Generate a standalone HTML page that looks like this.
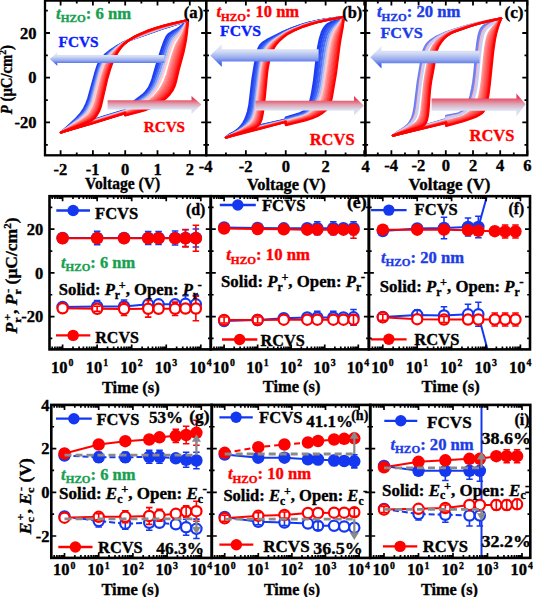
<!DOCTYPE html>
<html><head><meta charset="utf-8"><style>
html,body{margin:0;padding:0;background:#fff;overflow:hidden;}
svg{display:block;}
</style></head><body>
<svg width="533" height="597" viewBox="0 0 533 597">
<defs><linearGradient id="gB" x1="0" y1="0" x2="0" y2="1"><stop offset="0" stop-color="#e6ebf7"/><stop offset="0.3" stop-color="#d6def4"/><stop offset="0.6" stop-color="#98acee"/><stop offset="0.85" stop-color="#4a68ea"/><stop offset="1" stop-color="#2244e8"/></linearGradient><linearGradient id="gR" x1="0" y1="0" x2="0" y2="1"><stop offset="0" stop-color="#ec2d48"/><stop offset="0.2" stop-color="#e64a62"/><stop offset="0.45" stop-color="#e0a2b2"/><stop offset="0.7" stop-color="#dadcee"/><stop offset="1" stop-color="#dde3f4"/></linearGradient></defs>
<rect width="533" height="597" fill="#fff"/>
<g fill="none" stroke-linejoin="round" stroke-linecap="round">
<path d="M60.9,132.5 80.4,124.7 92.8,120.2 104.6,116.3 125.2,110.1 125.2,109.2 135.1,100.7 143.6,94.0 145.8,91.8 147.8,89.3 149.4,86.5 151.0,83.0 152.5,78.8 157.0,63.3 162.1,47.5 164.4,41.1 166.5,36.7 167.7,35.1 168.9,33.9 172.0,31.8 177.0,29.2 179.6,27.4 182.7,24.9 187.9,20.0" stroke="#1a3cf5" stroke-width="2.2"/>
<path d="M60.9,132.5 81.3,124.6 93.3,120.2 105.5,116.2 125.2,110.3 125.2,109.7 134.6,102.2 144.6,94.6 147.0,92.1 149.0,89.6 150.9,86.3 152.5,82.7 154.0,78.6 164.2,46.2 166.0,41.5 167.8,37.7 169.1,35.9 171.0,34.1 173.6,32.3 178.1,29.5 180.8,27.4 183.2,25.0 187.9,20.0" stroke="#2447f3" stroke-width="2.2"/>
<path d="M60.9,132.5 81.3,124.7 93.3,120.4 105.6,116.5 125.2,110.6 125.2,110.1 143.4,96.9 145.7,95.1 148.1,92.7 150.2,89.9 152.3,86.4 154.1,82.5 158.1,70.9 165.6,47.0 167.3,42.6 169.0,39.0 170.2,37.0 171.8,35.4 174.3,33.4 178.7,30.2 181.2,27.9 183.6,25.4 187.9,20.0" stroke="#4a6af2" stroke-width="2.2"/>
<path d="M60.9,132.5 81.4,124.9 93.4,120.7 105.7,116.7 125.2,110.8 125.2,110.6 144.1,97.9 146.8,95.8 149.4,93.2 151.5,90.4 153.8,86.7 155.8,82.6 160.1,70.7 167.3,47.6 168.9,43.5 170.4,40.2 171.7,38.2 173.2,36.5 179.2,31.2 181.6,28.7 183.9,25.8 187.9,20.0" stroke="#7c96f5" stroke-width="2.2"/>
<path d="M60.9,132.5 81.5,125.0 93.9,120.8 106.6,116.7 125.2,111.1 144.5,99.1 148.2,96.3 150.8,93.7 153.3,90.5 155.6,86.7 157.6,82.7 160.1,76.6 161.9,71.5 168.9,48.5 170.4,44.4 171.8,41.3 172.9,39.5 174.1,37.9 179.9,31.9 182.1,29.3 184.4,25.9 187.9,20.0" stroke="#b0c4fa" stroke-width="2.2"/>
<path d="M60.9,132.5 82.8,124.8 96.9,120.1 125.2,111.3 125.2,111.6 144.6,100.5 147.1,98.9 149.3,97.1 152.4,94.0 155.4,90.1 157.9,86.1 160.2,81.1 162.1,76.5 163.8,71.7 170.3,50.0 171.9,45.6 173.4,42.2 175.5,39.0 180.4,32.9 182.5,30.1 184.7,26.2 187.9,20.0" stroke="#ffc8cc" stroke-width="2.2"/>
<path d="M60.9,132.5 89.0,123.2 108.9,116.9 125.2,111.8 125.2,112.7 138.1,106.7 144.9,103.2 149.0,100.8 152.7,97.9 156.3,94.2 159.6,90.1 162.0,86.4 164.6,81.2 167.2,74.3 172.1,56.7 175.3,47.2 176.9,43.5 181.9,34.9 183.6,31.4 185.4,27.0 187.9,20.0" stroke="#ff9c9c" stroke-width="2.2"/>
<path d="M60.9,132.5 95.1,121.4 125.2,112.1 125.2,113.1 138.4,107.4 145.7,104.0 150.1,101.4 154.2,98.2 158.2,94.3 161.3,90.4 164.0,86.2 166.5,81.2 168.7,74.9 172.8,60.0 176.0,49.7 177.8,44.9 182.2,36.2 184.0,32.2 185.7,27.3 187.9,20.0" stroke="#ff8282" stroke-width="2.2"/>
<path d="M60.9,132.5 125.2,112.3 125.2,113.5 139.1,108.1 146.5,104.7 151.4,101.9 156.1,98.2 160.0,94.4 163.0,90.8 165.9,86.2 168.3,81.2 170.3,75.4 173.3,63.9 176.0,54.7 178.7,46.7 182.8,37.2 184.4,33.0 186.0,27.7 187.9,20.0" stroke="#ff6a6a" stroke-width="2.2"/>
<path d="M60.9,132.5 125.2,112.5 125.2,114.0 139.5,108.8 147.6,105.3 152.8,102.3 158.6,97.8 162.5,93.9 165.3,90.4 168.1,85.8 170.1,81.2 171.7,76.5 174.4,65.7 177.1,56.3 179.7,48.2 183.4,38.3 184.9,33.6 186.4,27.6 187.9,20.0" stroke="#ff5454" stroke-width="2.2"/>
<path d="M60.9,132.5 90.1,123.6 125.2,112.7 125.2,114.4 139.2,109.8 146.1,107.1 151.4,104.6 156.1,101.4 161.0,97.5 164.5,94.1 167.4,90.3 170.0,85.9 171.8,81.5 173.1,77.4 175.3,68.4 177.4,60.5 184.8,36.4 186.5,29.0 187.9,20.0" stroke="#ff3c3c" stroke-width="2.2"/>
<path d="M60.9,132.5 91.8,123.3 125.2,112.9 125.2,114.9 141.8,109.8 148.1,107.4 153.1,104.9 158.5,101.2 163.6,97.2 166.9,93.8 169.7,90.0 171.8,86.2 173.6,81.4 177.6,65.5 183.1,46.4 184.8,39.8 186.7,30.1 187.9,20.0" stroke="#ff2424" stroke-width="2.2"/>
<path d="M60.9,132.5 92.3,123.3 125.2,113.1 125.2,115.2 143.0,110.1 149.0,107.8 153.8,105.4 160.1,101.3 165.2,97.3 168.5,93.9 171.2,90.0 173.2,86.1 174.8,81.5 178.0,68.4 182.8,51.2 185.0,42.1 186.8,31.1 187.9,20.0" stroke="#ff1010" stroke-width="2.2"/>
<path d="M60.9,132.5 93.2,123.2 125.2,113.3 125.2,115.5 138.8,112.0 144.3,110.4 150.0,108.2 154.7,105.8 161.6,101.4 166.6,97.6 169.8,94.2 172.6,90.3 174.4,86.6 175.9,81.9 178.9,69.1 183.4,52.7 185.1,44.8 186.1,39.1 187.0,32.1 187.9,20.0" stroke="#ff0000" stroke-width="2.2"/>
<path d="M60.9,132.5 70.3,124.1 76.4,118.3 80.9,113.1 84.0,108.5 86.2,104.0 88.3,98.4 95.2,73.2 97.6,65.6 99.2,61.9 100.8,59.1 102.5,57.0 105.0,54.7 109.5,51.0 115.8,46.8 121.3,43.6 126.5,41.1 130.0,39.8 142.3,35.8 162.1,28.8 183.3,22.1 186.1,21.1 187.9,20.0" stroke="#1a3cf5" stroke-width="2.2"/>
<path d="M60.9,132.5 70.8,124.2 77.1,118.4 81.7,113.5 84.9,108.9 87.1,104.5 89.2,98.8 96.0,73.5 98.8,65.3 100.3,62.0 101.9,59.2 103.8,56.9 106.7,54.0 111.5,50.2 117.2,46.2 122.0,43.4 127.2,40.9 160.9,29.0 183.9,21.8 186.0,21.0 187.9,20.0" stroke="#2447f3" stroke-width="2.2"/>
<path d="M60.9,132.5 71.4,124.2 77.6,118.9 82.3,114.1 84.0,111.9 85.6,109.6 88.0,104.9 90.1,99.3 97.0,73.6 98.5,68.8 99.9,65.0 101.4,61.7 103.1,59.0 105.6,56.2 109.0,52.9 114.0,48.8 118.8,45.5 123.3,42.8 128.2,40.5 158.2,29.7 167.3,26.8 183.5,21.9 186.0,21.0 187.9,20.0" stroke="#4a6af2" stroke-width="2.2"/>
<path d="M60.9,132.5 72.2,124.1 78.6,118.9 83.5,114.2 85.0,112.4 86.6,110.1 88.9,105.8 91.0,100.2 98.0,74.0 99.6,68.9 101.2,64.8 102.9,61.2 104.9,58.4 107.8,55.1 111.8,51.4 116.2,47.7 120.7,44.5 125.0,42.1 129.6,39.9 157.7,29.7 167.5,26.5 183.8,21.7 185.9,21.0 187.9,20.0" stroke="#7c96f5" stroke-width="2.2"/>
<path d="M60.9,132.5 73.1,124.0 79.4,119.3 84.4,114.7 86.0,112.9 87.6,110.7 89.9,106.3 92.1,100.8 98.9,74.5 100.6,69.1 102.4,64.6 104.2,61.1 106.6,57.7 110.0,53.9 114.4,49.7 118.4,46.5 122.0,43.9 126.3,41.5 130.6,39.5 157.1,29.6 167.3,26.3 183.7,21.6 185.9,20.9 187.9,20.0" stroke="#b0c4fa" stroke-width="2.2"/>
<path d="M60.9,132.5 73.7,124.2 80.2,119.6 85.4,115.2 86.7,113.7 88.4,111.5 90.9,106.9 93.1,101.3 99.9,75.0 101.6,69.5 103.5,64.7 105.5,60.9 108.3,57.0 112.1,52.7 116.8,48.2 121.0,44.8 125.4,42.0 129.9,39.8 137.0,36.8 150.6,31.7 158.8,28.8 168.3,25.9 184.0,21.5 187.9,20.0" stroke="#ffc8cc" stroke-width="2.2"/>
<path d="M60.9,132.5 76.0,124.0 82.8,119.8 87.7,116.0 89.3,114.3 90.7,112.4 93.1,108.1 95.3,102.5 101.9,76.1 103.9,69.9 105.7,65.0 108.1,60.6 111.6,55.5 115.7,50.5 119.8,46.5 123.8,43.3 128.9,40.2 135.8,37.0 143.9,33.6 153.0,30.3 161.7,27.4 169.8,25.0 184.3,21.2 187.9,20.0" stroke="#ff9c9c" stroke-width="2.2"/>
<path d="M60.9,132.5 76.6,124.2 83.9,119.9 88.6,116.5 90.2,114.7 91.6,112.8 94.2,108.2 96.2,103.0 102.7,76.8 104.6,70.6 106.5,65.3 109.2,60.3 112.8,54.8 116.9,49.8 121.0,45.7 125.3,42.4 130.2,39.5 137.0,36.3 145.5,32.8 153.9,29.7 162.3,27.0 170.1,24.8 184.2,21.2 187.9,20.0" stroke="#ff8282" stroke-width="2.2"/>
<path d="M60.9,132.5 77.0,124.5 84.7,120.3 89.2,117.1 90.9,115.4 92.6,113.3 95.1,108.7 97.1,103.4 103.5,77.2 105.4,70.9 107.3,65.7 110.1,60.3 113.8,54.4 117.8,49.3 121.6,45.4 125.7,42.3 130.8,39.2 137.5,35.9 146.0,32.4 154.5,29.3 162.9,26.7 187.9,20.0" stroke="#ff6a6a" stroke-width="2.2"/>
<path d="M60.9,132.5 77.6,124.7 85.5,120.6 88.2,119.0 90.1,117.6 91.8,115.9 93.3,114.0 95.9,109.4 97.9,104.2 104.3,78.0 106.4,70.9 108.3,65.7 111.1,59.9 114.8,53.9 118.7,48.7 122.5,44.8 127.1,41.3 132.3,38.3 138.7,35.2 146.9,31.8 155.4,28.8 163.8,26.2 187.9,20.0" stroke="#ff5454" stroke-width="2.2"/>
<path d="M60.9,132.5 78.3,124.9 86.7,120.8 90.8,118.2 92.5,116.6 94.2,114.5 96.9,109.9 98.9,104.7 105.1,78.3 107.2,71.3 109.2,65.6 112.1,59.4 115.7,53.4 119.4,48.4 123.1,44.5 127.7,41.0 133.5,37.6 139.3,34.7 147.1,31.5 155.6,28.5 164.1,26.0 187.9,20.0" stroke="#ff3c3c" stroke-width="2.2"/>
<path d="M60.9,132.5 79.0,125.1 87.6,121.2 90.0,119.9 91.7,118.7 93.5,117.0 95.2,114.9 97.7,110.7 99.7,105.5 101.1,99.8 106.1,78.3 108.2,70.9 110.3,65.2 113.3,58.7 116.8,52.6 120.2,47.8 123.7,44.2 128.6,40.4 134.3,37.0 140.1,34.2 147.6,31.1 156.2,28.1 164.7,25.6 187.9,20.0" stroke="#ff2424" stroke-width="2.2"/>
<path d="M60.9,132.5 79.6,125.3 88.6,121.3 91.1,120.0 92.5,118.9 94.2,117.3 95.9,115.2 98.4,110.9 100.4,105.7 106.6,78.9 109.0,70.7 111.1,64.6 114.1,58.0 117.5,51.9 120.8,47.4 124.3,43.8 128.9,40.2 134.6,36.8 140.4,33.9 147.9,30.9 156.1,28.0 164.9,25.4 172.2,23.6 187.9,20.0" stroke="#ff1010" stroke-width="2.2"/>
<path d="M60.9,132.5 79.9,125.5 89.0,121.7 91.6,120.4 93.0,119.4 94.7,117.8 96.4,115.7 98.9,111.5 100.9,106.3 107.3,78.6 109.7,70.4 111.9,64.0 114.9,57.4 117.9,51.8 121.1,47.3 124.6,43.6 129.2,40.0 134.8,36.5 140.6,33.7 148.1,30.6 156.3,27.8 165.2,25.2 172.9,23.3 187.9,20.0" stroke="#ff0000" stroke-width="2.2"/>
</g>
<g fill="none" stroke-linejoin="round" stroke-linecap="round">
<path d="M225.9,137.6 229.6,134.4 230.8,133.7 233.9,132.3 238.6,130.7 252.6,127.0 285.8,119.5 285.8,117.5 296.4,114.4 299.9,113.2 303.5,111.4 306.4,109.2 307.9,107.3 309.0,104.7 310.6,99.6 311.9,93.8 314.1,80.1 317.2,53.4 318.2,46.8 319.9,38.5 321.9,32.1 323.3,29.3 324.5,27.2 326.1,25.4 327.9,23.9 330.9,22.2 338.2,19.5 344.0,16.9" stroke="#1a3cf5" stroke-width="2.2"/>
<path d="M225.9,137.6 229.7,134.6 230.9,133.8 234.4,132.4 239.2,130.8 253.9,127.0 285.8,119.7 285.8,118.1 296.8,114.9 300.6,113.6 304.2,111.8 307.1,109.6 308.5,107.7 310.7,102.6 312.3,97.6 313.7,91.8 315.7,79.9 318.8,54.8 319.8,47.8 321.4,39.7 323.5,33.0 324.8,30.1 326.1,28.0 327.4,26.4 329.2,24.8 331.7,23.1 338.6,19.9 344.0,16.9" stroke="#1f42f4" stroke-width="2.2"/>
<path d="M225.9,137.6 229.9,134.7 231.1,134.0 234.2,132.7 239.0,131.2 252.9,127.5 285.8,119.9 285.8,118.7 296.9,115.5 300.7,114.2 305.0,112.2 307.8,110.0 308.8,108.8 309.5,107.5 312.1,102.0 313.8,97.0 315.4,91.0 317.3,80.5 320.3,56.1 321.5,48.0 323.1,40.3 325.2,33.6 326.2,31.2 327.5,29.1 328.7,27.4 330.4,25.7 332.8,23.9 339.5,20.0 344.0,16.9" stroke="#3358f3" stroke-width="2.2"/>
<path d="M225.9,137.6 231.3,134.2 234.4,133.0 239.2,131.5 253.1,127.8 285.8,120.1 285.8,119.4 297.7,116.1 302.4,114.4 306.0,112.5 308.6,110.5 309.6,109.3 311.0,106.9 313.5,102.2 315.5,97.0 317.1,91.4 318.9,82.1 322.1,57.3 323.3,48.8 324.9,41.1 326.9,34.6 329.0,30.3 331.5,26.9 333.8,24.9 339.7,20.7 344.0,16.9" stroke="#4a6af2" stroke-width="2.2"/>
<path d="M225.9,137.6 231.4,134.4 239.1,131.8 253.2,128.1 285.8,120.3 285.8,120.1 299.1,116.4 302.5,115.1 305.5,113.8 307.6,112.5 309.4,111.0 312.3,107.1 315.1,102.1 317.3,97.1 318.9,91.9 320.5,83.7 323.9,58.1 325.2,49.6 326.9,41.5 328.7,35.3 330.4,31.4 332.9,27.9 334.7,25.9 339.9,21.3 344.0,16.9" stroke="#7c96f5" stroke-width="2.2"/>
<path d="M225.9,137.6 231.6,134.6 240.4,131.7 256.5,127.6 285.8,120.5 285.8,120.7 299.5,116.9 303.0,115.7 306.0,114.4 308.4,113.0 310.2,111.4 313.5,107.4 316.3,102.9 318.6,98.0 320.3,92.8 321.8,85.4 326.9,49.8 328.5,42.0 330.3,35.7 331.9,32.2 333.8,29.0 335.6,26.8 340.3,21.7 344.0,16.9" stroke="#b0c4fa" stroke-width="2.2"/>
<path d="M225.9,137.6 232.1,134.6 242.4,131.5 255.1,128.2 285.8,120.7 285.8,121.3 299.9,117.5 304.1,116.0 307.3,114.5 309.7,113.1 311.7,111.2 314.9,107.5 318.0,102.9 320.3,98.3 321.9,93.5 323.3,86.7 328.6,50.0 330.1,42.5 331.8,36.5 333.2,33.1 334.8,30.0 340.7,22.2 344.0,16.9" stroke="#ffc8cc" stroke-width="2.2"/>
<path d="M225.9,137.6 230.9,135.4 233.4,134.5 247.2,130.6 285.8,121.0 285.8,122.1 301.1,118.0 305.5,116.4 309.3,114.6 311.6,113.0 314.8,110.1 317.6,106.9 320.1,103.3 321.9,100.0 323.3,96.2 324.9,89.6 330.4,52.4 331.5,45.8 332.8,40.2 334.1,35.9 335.6,32.3 341.2,22.7 344.0,16.9" stroke="#ff9c9c" stroke-width="2.2"/>
<path d="M225.9,137.6 231.0,135.5 235.0,134.2 255.4,128.8 285.8,121.2 285.8,122.7 301.9,118.4 306.7,116.8 310.5,114.9 313.8,112.6 317.0,109.8 319.8,106.5 322.1,103.2 323.8,100.1 325.0,96.6 326.3,90.6 332.2,51.5 334.2,41.3 335.3,37.2 336.5,33.7 341.4,23.4 344.0,16.9" stroke="#ff7a7a" stroke-width="2.2"/>
<path d="M225.9,137.6 232.2,135.3 240.4,133.0 285.8,121.4 285.8,123.3 302.7,118.9 307.8,117.1 311.9,115.2 316.1,112.3 319.7,109.0 322.3,106.0 324.2,103.1 325.6,100.2 326.8,96.6 327.6,93.0 328.8,85.9 334.0,50.8 335.6,42.3 337.5,35.1 341.7,24.2 344.0,16.9" stroke="#ff5a5a" stroke-width="2.2"/>
<path d="M225.9,137.6 232.4,135.5 240.6,133.2 285.8,121.6 285.8,123.9 303.5,119.4 309.3,117.4 313.8,115.3 317.7,112.7 321.9,109.1 324.4,106.3 326.1,103.6 327.4,100.6 328.5,96.9 332.2,74.9 335.7,50.8 336.9,43.4 338.4,37.0 342.2,24.7 344.0,16.9" stroke="#ff3c3c" stroke-width="2.2"/>
<path d="M225.9,137.6 241.2,133.3 285.8,121.8 285.8,124.5 304.3,119.9 310.9,117.7 316.0,115.4 320.5,112.4 324.2,109.2 326.4,106.6 327.9,104.1 329.2,101.0 330.2,97.2 334.2,73.6 338.3,44.0 339.7,37.1 342.6,25.1 344.0,16.9" stroke="#ff1e1e" stroke-width="2.2"/>
<path d="M225.9,137.6 285.8,122.0 285.8,125.1 305.2,120.4 312.2,118.2 317.4,116.0 322.4,113.0 326.2,109.8 328.2,107.4 329.6,104.8 330.8,101.7 331.8,97.8 335.9,73.8 339.4,46.6 340.5,39.3 342.8,26.7 344.0,16.9" stroke="#ff0000" stroke-width="2.2"/>
<path d="M225.9,137.6 234.5,131.8 237.7,129.3 239.7,127.5 241.7,125.2 243.5,122.6 245.0,119.8 246.3,116.8 248.0,111.3 249.4,104.6 252.5,78.5 254.5,66.1 256.5,55.2 257.4,51.4 258.4,48.5 259.7,46.0 260.9,44.4 263.5,42.2 266.7,40.1 283.3,31.8 291.0,28.5 300.5,25.1 308.2,22.8 317.6,20.7 325.9,19.3 344.0,16.9" stroke="#1a3cf5" stroke-width="2.2"/>
<path d="M225.9,137.6 235.2,131.6 238.3,129.4 240.5,127.3 242.6,125.1 244.6,122.3 246.2,119.6 247.6,116.2 249.2,111.2 250.4,105.2 253.6,79.1 255.6,65.9 257.4,56.2 258.3,52.3 259.4,49.1 260.7,46.5 262.2,44.7 264.8,42.5 267.9,40.4 283.2,32.2 290.8,28.8 299.9,25.5 308.4,22.9 317.3,20.9 325.9,19.4 344.0,16.9" stroke="#1f42f4" stroke-width="2.2"/>
<path d="M225.9,137.6 235.7,131.6 238.8,129.4 241.1,127.5 243.5,125.0 245.6,122.3 247.2,119.7 248.8,116.4 250.3,111.7 251.6,105.4 254.7,79.3 256.8,65.6 258.4,56.7 259.4,52.5 260.6,49.3 261.9,46.8 263.4,45.0 266.0,42.7 269.4,40.4 283.5,32.5 290.7,29.1 299.7,25.7 307.7,23.2 317.4,21.0 326.0,19.5 344.0,16.9" stroke="#3358f3" stroke-width="2.2"/>
<path d="M225.9,137.6 236.5,131.5 239.4,129.6 241.8,127.7 244.5,125.1 246.7,122.5 248.6,119.6 250.0,116.8 251.6,112.1 252.8,106.1 256.1,78.8 258.0,65.8 259.5,57.3 260.6,53.1 261.9,49.6 263.0,47.4 265.0,45.1 267.5,42.8 270.5,40.6 275.9,37.3 283.5,32.9 290.2,29.7 299.2,26.2 307.9,23.4 317.2,21.2 326.1,19.6 344.0,16.9" stroke="#4a6af2" stroke-width="2.2"/>
<path d="M225.9,137.6 237.7,131.2 242.8,127.7 245.6,125.2 248.1,122.5 249.9,119.9 251.4,117.1 252.9,112.4 254.1,106.5 257.7,77.0 259.2,66.1 260.6,58.0 261.8,53.4 263.1,49.9 264.5,47.5 266.7,44.9 269.5,42.4 272.8,40.0 284.0,33.0 290.5,29.9 299.4,26.4 308.0,23.5 317.3,21.3 326.1,19.6 344.0,16.9" stroke="#7c96f5" stroke-width="2.2"/>
<path d="M225.9,137.6 238.5,131.1 243.7,127.7 246.6,125.3 249.0,122.9 250.9,120.5 252.4,117.7 254.0,113.1 255.2,107.1 259.7,70.4 261.6,58.5 262.8,53.9 264.3,50.1 265.9,47.5 268.4,44.6 271.1,42.1 274.4,39.6 284.6,33.1 291.0,29.9 299.9,26.4 308.2,23.7 317.4,21.4 326.2,19.7 344.0,16.9" stroke="#b0c4fa" stroke-width="2.2"/>
<path d="M225.9,137.6 238.8,131.3 244.7,127.7 248.2,125.0 250.2,123.1 252.1,120.8 253.5,118.3 255.0,114.0 256.2,108.1 260.8,70.1 262.7,58.6 263.9,54.1 265.4,50.3 267.5,47.1 269.9,44.3 272.4,42.0 275.6,39.5 284.8,33.3 291.2,30.1 300.4,26.4 308.3,23.8 317.9,21.4 326.3,19.8 344.0,16.9" stroke="#ffc8cc" stroke-width="2.2"/>
<path d="M225.9,137.6 239.4,131.5 246.4,127.5 249.6,125.4 251.6,123.6 253.4,121.6 254.8,119.2 256.3,114.9 257.6,109.0 262.1,70.4 263.9,59.4 265.3,54.5 266.8,50.7 269.0,47.2 271.8,43.8 274.3,41.5 277.0,39.3 285.4,33.5 292.1,30.1 300.9,26.5 309.2,23.8 318.0,21.5 326.4,19.9 344.0,16.9" stroke="#ff9c9c" stroke-width="2.2"/>
<path d="M225.9,137.6 240.3,131.4 248.2,127.3 250.8,125.6 252.9,123.9 254.5,122.2 255.8,120.1 257.4,115.5 258.7,109.6 263.1,70.9 264.0,64.7 265.0,59.5 266.5,54.3 268.1,50.6 270.3,47.0 273.3,43.4 275.8,41.0 278.7,38.7 286.0,33.5 292.3,30.3 301.5,26.5 309.3,23.9 318.1,21.6 326.4,19.9 344.0,16.9" stroke="#ff7a7a" stroke-width="2.2"/>
<path d="M225.9,137.6 241.2,131.4 250.3,127.0 252.3,125.8 254.2,124.3 255.8,122.5 256.9,120.7 258.5,116.2 259.7,110.2 264.1,71.0 265.1,64.8 266.1,59.6 267.6,54.4 269.3,50.4 271.9,46.3 275.0,42.6 280.4,38.0 286.8,33.4 293.5,30.0 302.3,26.4 310.2,23.8 319.0,21.5 326.5,20.0 344.0,16.9" stroke="#ff5a5a" stroke-width="2.2"/>
<path d="M225.9,137.6 241.9,131.6 251.5,127.3 253.7,126.1 255.3,124.9 256.7,123.4 257.8,121.7 258.7,119.7 259.5,117.2 260.8,111.2 262.5,96.7 265.1,71.5 266.1,65.3 267.1,60.1 268.7,54.5 270.5,50.2 273.1,46.0 276.4,42.1 281.7,37.4 287.3,33.4 293.7,30.2 302.8,26.4 310.3,23.9 319.1,21.6 326.6,20.1 344.0,16.9" stroke="#ff3c3c" stroke-width="2.2"/>
<path d="M225.9,137.6 242.5,131.7 252.5,127.9 254.7,126.7 256.4,125.5 257.8,124.0 259.0,122.3 259.8,120.3 260.7,117.8 261.9,111.8 263.7,96.4 266.1,72.5 267.0,66.2 268.1,60.6 269.8,54.7 271.7,49.9 274.3,45.7 277.5,41.8 282.6,37.3 287.6,33.7 293.9,30.4 303.0,26.6 310.5,24.1 319.2,21.7 326.6,20.1 344.0,16.9" stroke="#ff1e1e" stroke-width="2.2"/>
<path d="M225.9,137.6 253.5,128.4 255.8,127.3 257.5,126.1 258.9,124.7 259.9,123.3 260.8,121.3 261.7,118.8 262.9,112.9 264.8,97.1 267.1,73.0 267.9,67.1 269.1,61.2 270.8,54.8 272.7,50.0 275.4,45.4 278.4,41.8 283.4,37.2 286.1,35.1 288.1,33.7 294.7,30.3 303.5,26.6 311.0,24.1 319.3,21.8 326.7,20.2 344.0,16.9" stroke="#ff0000" stroke-width="2.2"/>
</g>
<g fill="none" stroke-linejoin="round" stroke-linecap="round">
<path d="M392.9,135.6 419.8,126.9 446.2,119.1 446.2,115.9 456.6,113.9 458.8,113.2 462.1,111.6 464.9,109.3 467.1,106.2 468.7,102.6 470.5,96.0 472.1,88.4 473.2,82.2 474.2,74.3 476.4,50.4 477.3,42.9 478.5,35.6 479.9,30.9 480.8,29.0 481.9,27.3 483.4,26.0 485.3,24.7 488.0,23.4 495.2,20.9 501.2,18.4" stroke="#6a7cf0" stroke-width="2.2"/>
<path d="M392.9,135.6 419.8,127.1 446.2,119.4 446.2,116.7 456.6,114.6 459.1,113.9 462.6,112.1 464.3,110.9 465.7,109.5 467.9,106.5 469.5,103.2 471.7,96.1 473.4,89.3 474.4,83.1 475.5,74.8 478.6,43.9 479.8,36.6 481.1,31.9 482.0,30.0 483.1,28.3 484.5,26.8 486.1,25.6 488.7,24.1 495.5,21.3 501.2,18.4" stroke="#7486f2" stroke-width="2.2"/>
<path d="M392.9,135.6 419.2,127.4 446.2,119.7 446.2,117.5 456.6,115.3 459.5,114.5 463.2,112.6 465.1,111.2 466.5,109.8 468.6,107.0 470.4,103.5 472.9,96.7 474.5,90.5 475.6,84.3 476.7,76.0 478.9,53.0 479.8,44.7 481.0,37.7 482.3,32.9 483.2,30.9 484.1,29.4 485.4,27.9 487.1,26.4 489.6,24.8 495.8,21.6 501.2,18.4" stroke="#ffb4b4" stroke-width="2.2"/>
<path d="M392.9,135.6 419.2,127.6 446.2,120.0 446.2,118.4 456.6,116.1 460.1,115.0 463.8,113.1 465.7,111.7 467.4,110.1 469.9,106.8 472.0,102.8 474.2,97.2 475.6,92.1 476.7,85.5 477.9,77.2 480.1,53.8 481.2,45.0 482.3,38.4 483.6,33.6 485.3,30.3 486.5,28.7 488.2,27.1 490.5,25.3 496.0,21.9 501.2,18.4" stroke="#c4d0fc" stroke-width="2.2"/>
<path d="M392.9,135.6 426.7,126.2 446.2,121.0 459.2,117.7 463.1,116.2 466.3,114.5 469.5,112.2 472.1,109.8 474.7,106.6 476.7,103.3 478.3,99.9 479.2,96.6 480.6,89.6 481.8,81.3 484.2,56.7 485.3,47.1 486.3,41.4 487.4,36.7 489.0,32.9 491.5,29.1 493.4,26.8 501.2,18.4" stroke="#ff9a9a" stroke-width="2.2"/>
<path d="M392.9,135.6 420.0,128.2 446.2,121.3 446.2,121.8 459.6,118.4 463.8,116.8 467.6,114.7 471.3,112.1 474.0,109.5 476.7,106.3 478.6,103.2 479.9,99.9 480.8,96.2 482.0,89.1 483.0,81.7 486.6,48.1 487.5,42.3 488.6,37.6 490.1,33.7 492.4,29.7 496.1,24.7 501.2,18.4" stroke="#ff8080" stroke-width="2.2"/>
<path d="M392.9,135.6 419.3,128.5 446.2,121.6 446.2,122.6 459.9,119.0 464.8,117.2 469.2,114.9 473.1,112.1 476.4,109.0 478.8,106.0 480.4,103.0 481.3,100.5 482.3,95.3 483.5,88.5 484.3,82.2 487.8,49.1 488.7,43.3 489.8,38.5 491.3,34.2 493.4,30.0 497.2,24.1 501.2,18.4" stroke="#ff6a6a" stroke-width="2.2"/>
<path d="M392.9,135.6 446.2,121.9 446.2,123.4 459.9,119.8 465.5,117.7 470.6,115.2 474.6,112.5 478.2,109.3 480.4,106.5 481.8,103.7 482.5,101.4 483.9,94.8 485.6,82.6 489.0,50.1 489.9,44.3 490.9,39.4 492.3,34.9 494.4,30.2 497.6,24.2 501.2,18.4" stroke="#ff5555" stroke-width="2.2"/>
<path d="M392.9,135.6 446.2,122.2 446.2,124.2 459.6,120.6 465.9,118.4 471.8,115.8 476.5,112.9 479.9,109.9 481.9,107.2 483.1,104.7 484.1,101.0 485.4,94.2 486.9,83.1 490.3,50.8 491.1,44.9 492.1,39.9 493.5,35.0 495.4,30.0 498.0,24.2 501.2,18.4" stroke="#ff4040" stroke-width="2.2"/>
<path d="M392.9,135.6 446.2,122.5 446.2,125.0 458.7,121.6 466.4,119.2 473.0,116.4 477.9,113.6 479.9,112.2 481.4,110.7 483.2,108.3 484.4,105.6 485.6,100.4 486.8,94.0 488.2,83.5 491.5,51.8 492.3,45.8 493.3,40.4 494.7,34.9 496.5,29.2 498.6,24.0 501.2,18.4" stroke="#ff2a2a" stroke-width="2.2"/>
<path d="M392.9,135.6 446.2,122.7 446.2,125.5 461.7,121.2 470.6,118.2 474.5,116.5 477.8,114.8 480.1,113.2 482.2,111.4 483.8,109.2 485.1,106.6 486.4,101.1 487.7,94.3 489.0,84.1 492.2,52.3 493.1,45.9 494.1,40.0 495.3,34.8 497.3,28.2 498.9,23.8 501.2,18.4" stroke="#ff1515" stroke-width="2.2"/>
<path d="M392.9,135.6 446.2,122.9 446.2,126.0 463.3,121.2 472.0,118.3 476.0,116.7 479.1,115.1 481.4,113.6 483.2,111.9 484.8,109.7 485.8,107.3 487.2,101.4 488.5,94.5 489.8,84.3 493.1,52.3 495.0,39.3 496.3,33.3 498.0,27.2 499.1,23.7 501.2,18.4" stroke="#ff0000" stroke-width="2.2"/>
<path d="M392.9,135.6 397.5,132.1 404.3,127.6 406.8,125.5 408.6,123.7 409.9,121.9 411.1,119.9 412.2,117.4 413.5,113.2 414.6,107.1 417.7,82.2 422.1,55.9 423.1,51.5 424.5,47.9 425.9,45.3 427.7,43.0 429.6,41.2 431.6,39.6 436.3,36.7 443.5,33.4 452.1,30.3 465.2,26.2 475.9,23.4 485.9,21.2 501.2,18.4" stroke="#6a7cf0" stroke-width="2.2"/>
<path d="M392.9,135.6 397.7,132.2 404.9,127.7 407.6,125.5 409.4,123.6 411.0,121.6 412.2,119.6 413.4,117.2 414.6,113.0 415.7,107.4 418.9,81.6 423.2,56.1 424.3,51.7 425.6,48.1 427.1,45.5 429.3,42.8 431.1,41.0 433.1,39.4 437.9,36.5 444.6,33.3 452.5,30.3 466.0,26.1 475.9,23.5 485.9,21.3 501.2,18.4" stroke="#7486f2" stroke-width="2.2"/>
<path d="M392.9,135.6 397.8,132.3 405.1,127.9 408.2,125.6 410.3,123.6 412.0,121.6 413.4,119.4 414.5,117.0 415.8,113.3 416.9,107.6 420.0,81.8 424.2,56.6 425.4,52.0 426.7,48.3 428.2,45.7 430.6,42.7 434.2,39.5 439.4,36.2 445.8,33.1 452.7,30.5 466.0,26.2 476.0,23.5 485.6,21.4 501.2,18.4" stroke="#ffb4b4" stroke-width="2.2"/>
<path d="M392.9,135.6 397.9,132.5 405.4,128.2 409.1,125.6 411.2,123.6 413.1,121.5 414.6,119.3 415.8,116.9 416.9,113.5 417.9,108.2 421.0,81.9 425.2,57.2 426.5,52.1 427.8,48.5 429.5,45.7 431.8,42.6 435.4,39.4 440.6,36.0 446.6,33.0 452.8,30.6 466.1,26.3 476.0,23.6 485.6,21.4 501.2,18.4" stroke="#c4d0fc" stroke-width="2.2"/>
<path d="M392.9,135.6 406.9,128.8 412.0,125.8 414.9,123.7 416.8,122.0 418.4,120.0 419.5,117.9 420.6,114.5 421.5,109.9 424.4,82.2 425.6,74.4 428.7,57.6 429.9,52.9 431.2,49.2 433.3,45.4 435.6,42.3 439.3,38.8 443.8,35.6 448.4,33.0 453.3,31.1 466.4,26.6 476.3,23.8 485.7,21.5 501.2,18.4" stroke="#ff9a9a" stroke-width="2.2"/>
<path d="M392.9,135.6 407.5,128.9 413.1,125.9 416.0,123.9 417.8,122.5 419.4,120.5 420.6,118.5 421.6,115.5 422.5,111.0 425.5,82.3 426.6,75.3 430.0,56.6 431.2,51.9 432.6,48.4 434.6,44.9 437.0,41.9 440.7,38.4 444.9,35.3 448.9,33.0 453.7,31.1 466.9,26.6 476.3,23.9 485.8,21.6 501.2,18.4" stroke="#ff8080" stroke-width="2.2"/>
<path d="M392.9,135.6 408.1,129.1 414.4,125.9 417.0,124.4 418.8,123.0 420.3,121.4 421.5,119.5 422.6,116.5 423.5,112.0 426.5,82.4 427.5,76.2 431.2,56.0 432.5,51.4 434.1,47.5 435.9,44.4 438.3,41.4 442.0,37.9 445.9,35.0 449.7,32.9 454.5,31.0 467.3,26.6 476.7,23.8 485.8,21.6 501.2,18.4" stroke="#ff6a6a" stroke-width="2.2"/>
<path d="M392.9,135.6 409.0,129.1 416.7,125.5 418.7,124.4 420.3,123.2 421.6,121.8 422.6,120.1 423.7,117.1 424.6,112.6 427.4,83.4 428.3,77.5 432.3,55.8 433.5,51.5 435.1,47.3 437.0,44.1 439.6,40.9 443.1,37.6 447.0,34.7 450.5,32.8 455.3,30.9 467.8,26.6 477.2,23.8 486.2,21.6 501.2,18.4" stroke="#ff5555" stroke-width="2.2"/>
<path d="M392.9,135.6 410.0,129.2 418.3,125.7 420.0,124.7 421.5,123.6 422.9,122.2 423.7,120.8 424.8,117.7 425.6,113.6 428.4,83.9 433.4,55.5 434.6,50.8 436.3,46.7 438.3,43.6 441.1,40.1 444.6,36.8 448.3,34.2 451.2,32.6 457.1,30.4 468.5,26.5 477.9,23.7 486.6,21.5 501.2,18.4" stroke="#ff4040" stroke-width="2.2"/>
<path d="M392.9,135.6 419.2,126.2 421.0,125.3 422.6,124.2 423.8,123.1 424.7,121.7 425.8,118.7 426.7,114.2 429.3,84.8 434.5,54.8 435.8,50.2 437.4,46.4 439.5,43.1 442.3,39.6 445.8,36.3 449.3,33.9 452.3,32.4 458.9,29.9 469.6,26.2 478.7,23.5 486.7,21.6 501.2,18.4" stroke="#ff2a2a" stroke-width="2.2"/>
<path d="M392.9,135.6 420.0,126.5 421.8,125.6 423.4,124.5 424.5,123.4 425.4,122.0 426.6,118.7 427.5,113.7 429.3,91.1 430.1,83.8 432.7,69.7 435.2,54.6 436.4,49.9 437.9,46.4 440.2,42.8 443.0,39.3 446.2,36.2 449.7,33.8 452.7,32.3 459.6,29.7 470.0,26.2 478.7,23.6 486.7,21.6 501.2,18.4" stroke="#ff1515" stroke-width="2.2"/>
<path d="M392.9,135.6 420.7,126.8 422.6,126.0 423.9,125.1 425.1,124.0 426.0,122.6 427.1,119.6 427.9,115.5 428.6,109.4 429.8,92.1 430.5,86.0 431.3,80.5 433.5,69.1 435.8,54.3 437.0,50.0 438.4,46.5 441.0,42.3 443.8,38.8 447.1,35.8 450.4,33.6 454.4,31.8 462.4,28.9 471.5,25.8 479.8,23.3 487.4,21.4 501.2,18.4" stroke="#ff0000" stroke-width="2.2"/>
</g>
<path d="M164.50,55.00 L57.30,55.00 L57.30,52.20 L49.80,58.90 L57.30,65.80 L57.30,63.00 L164.50,63.00Z" fill="url(#gB)"/>
<path d="M107.60,100.20 L191.50,100.20 L191.50,96.00 L201.40,104.60 L191.50,113.90 L191.50,109.40 L107.60,109.40Z" fill="url(#gR)"/>
<path d="M318.60,49.20 L221.80,49.20 L221.80,44.30 L210.20,55.40 L221.80,66.80 L221.80,61.40 L318.60,61.40Z" fill="url(#gB)"/>
<path d="M255.50,100.80 L354.00,100.80 L354.00,95.90 L363.80,105.70 L354.00,115.50 L354.00,110.60 L255.50,110.60Z" fill="url(#gR)"/>
<path d="M479.50,50.80 L381.50,50.80 L381.50,45.90 L370.30,57.20 L381.50,68.50 L381.50,63.20 L479.50,63.20Z" fill="url(#gB)"/>
<path d="M431.60,98.50 L516.40,98.50 L516.40,93.60 L525.60,104.30 L516.40,116.40 L516.40,110.70 L431.60,110.70Z" fill="url(#gR)"/>
<path d="M60.60,155.30v-5.0M60.60,0.60v5.0M92.90,155.30v-5.0M92.90,0.60v5.0M125.20,155.30v-5.0M125.20,0.60v5.0M157.50,155.30v-5.0M157.50,0.60v5.0M189.80,155.30v-5.0M189.80,0.60v5.0M76.75,155.30v-2.8M76.75,0.60v2.8M109.05,155.30v-2.8M109.05,0.60v2.8M141.35,155.30v-2.8M141.35,0.60v2.8M173.65,155.30v-2.8M173.65,0.60v2.8M45.00,122.42h5.0M206.20,122.42h-5.0M45.00,77.70h5.0M206.20,77.70h-5.0M45.00,32.98h5.0M206.20,32.98h-5.0M45.00,144.78h2.8M206.20,144.78h-2.8M45.00,100.06h2.8M206.20,100.06h-2.8M45.00,55.34h2.8M206.20,55.34h-2.8M45.00,10.62h2.8M206.20,10.62h-2.8" stroke="#000" stroke-width="1.8" fill="none"/>
<rect x="45.00" y="0.60" width="161.20" height="154.70" stroke="#000" stroke-width="2.3" fill="none"/>
<path d="M205.99,155.30v-5.0M205.99,0.60v5.0M245.87,155.30v-5.0M245.87,0.60v5.0M285.75,155.30v-5.0M285.75,0.60v5.0M325.63,155.30v-5.0M325.63,0.60v5.0M365.51,155.30v-5.0M365.51,0.60v5.0M225.93,155.30v-2.8M225.93,0.60v2.8M265.81,155.30v-2.8M265.81,0.60v2.8M305.69,155.30v-2.8M305.69,0.60v2.8M345.57,155.30v-2.8M345.57,0.60v2.8M206.20,122.42h5.0M365.30,122.42h-5.0M206.20,77.70h5.0M365.30,77.70h-5.0M206.20,32.98h5.0M365.30,32.98h-5.0M206.20,144.78h2.8M365.30,144.78h-2.8M206.20,100.06h2.8M365.30,100.06h-2.8M206.20,55.34h2.8M365.30,55.34h-2.8M206.20,10.62h2.8M365.30,10.62h-2.8" stroke="#000" stroke-width="1.8" fill="none"/>
<rect x="206.20" y="0.60" width="159.10" height="154.70" stroke="#000" stroke-width="2.3" fill="none"/>
<path d="M364.20,155.30v-5.0M364.20,0.60v5.0M391.40,155.30v-5.0M391.40,0.60v5.0M418.60,155.30v-5.0M418.60,0.60v5.0M445.80,155.30v-5.0M445.80,0.60v5.0M473.00,155.30v-5.0M473.00,0.60v5.0M500.20,155.30v-5.0M500.20,0.60v5.0M527.40,155.30v-5.0M527.40,0.60v5.0M377.80,155.30v-2.8M377.80,0.60v2.8M405.00,155.30v-2.8M405.00,0.60v2.8M432.20,155.30v-2.8M432.20,0.60v2.8M459.40,155.30v-2.8M459.40,0.60v2.8M486.60,155.30v-2.8M486.60,0.60v2.8M513.80,155.30v-2.8M513.80,0.60v2.8M365.30,122.42h5.0M527.30,122.42h-5.0M365.30,77.70h5.0M527.30,77.70h-5.0M365.30,32.98h5.0M527.30,32.98h-5.0M365.30,144.78h2.8M527.30,144.78h-2.8M365.30,100.06h2.8M527.30,100.06h-2.8M365.30,55.34h2.8M527.30,55.34h-2.8M365.30,10.62h2.8M527.30,10.62h-2.8" stroke="#000" stroke-width="1.8" fill="none"/>
<rect x="365.30" y="0.60" width="162.00" height="154.70" stroke="#000" stroke-width="2.3" fill="none"/>
<text x="56.10" y="18.90" font-size="16.5" fill="#17a050" stroke="#17a050" stroke-width="0.35" text-anchor="start" textLength="75.1" lengthAdjust="spacingAndGlyphs" font-family="Liberation Serif" font-weight="bold" ><tspan font-style="italic">t</tspan><tspan font-size="11.2" dy="3.4">HZO</tspan><tspan dy="-3.4">: 6 nm</tspan></text>
<text x="216.40" y="17.40" font-size="16.5" fill="#ff0000" stroke="#ff0000" stroke-width="0.35" text-anchor="start" textLength="82.7" lengthAdjust="spacingAndGlyphs" font-family="Liberation Serif" font-weight="bold" ><tspan font-style="italic">t</tspan><tspan font-size="11.2" dy="3.4">HZO</tspan><tspan dy="-3.4">: 10 nm</tspan></text>
<text x="377.00" y="17.20" font-size="16.5" fill="#1c3ce8" stroke="#1c3ce8" stroke-width="0.35" text-anchor="start" textLength="83.3" lengthAdjust="spacingAndGlyphs" font-family="Liberation Serif" font-weight="bold" ><tspan font-style="italic">t</tspan><tspan font-size="11.2" dy="3.4">HZO</tspan><tspan dy="-3.4">: 20 nm</tspan></text>
<text x="183.80" y="18.00" font-size="16.5" fill="#000" stroke="#000" stroke-width="0.35" text-anchor="start" textLength="19.4" lengthAdjust="spacingAndGlyphs" font-family="Liberation Serif" font-weight="bold" >(a)</text>
<text x="342.30" y="17.50" font-size="16.5" fill="#000" stroke="#000" stroke-width="0.35" text-anchor="start" textLength="20.0" lengthAdjust="spacingAndGlyphs" font-family="Liberation Serif" font-weight="bold" >(b)</text>
<text x="504.50" y="18.00" font-size="16.5" fill="#000" stroke="#000" stroke-width="0.35" text-anchor="start" textLength="19.1" lengthAdjust="spacingAndGlyphs" font-family="Liberation Serif" font-weight="bold" >(c)</text>
<text x="58.50" y="47.10" font-size="15.5" fill="#0a1eff" stroke="#0a1eff" stroke-width="0.35" text-anchor="start" textLength="40.1" lengthAdjust="spacingAndGlyphs" font-family="Liberation Serif" font-weight="bold" >FCVS</text>
<text x="220.10" y="35.80" font-size="15.5" fill="#0a1eff" stroke="#0a1eff" stroke-width="0.35" text-anchor="start" textLength="41.0" lengthAdjust="spacingAndGlyphs" font-family="Liberation Serif" font-weight="bold" >FCVS</text>
<text x="380.40" y="37.60" font-size="15.5" fill="#1c3ce8" stroke="#1c3ce8" stroke-width="0.35" text-anchor="start" textLength="42.4" lengthAdjust="spacingAndGlyphs" font-family="Liberation Serif" font-weight="bold" >FCVS</text>
<text x="143.80" y="132.10" font-size="15.5" fill="#ff0000" stroke="#ff0000" stroke-width="0.35" text-anchor="start" textLength="41.2" lengthAdjust="spacingAndGlyphs" font-family="Liberation Serif" font-weight="bold" >RCVS</text>
<text x="309.70" y="144.80" font-size="16.2" fill="#ff0000" stroke="#ff0000" stroke-width="0.35" text-anchor="start" textLength="44.9" lengthAdjust="spacingAndGlyphs" font-family="Liberation Serif" font-weight="bold" >RCVS</text>
<text x="469.50" y="141.00" font-size="16.0" fill="#ff0000" stroke="#ff0000" stroke-width="0.35" text-anchor="start" textLength="44.8" lengthAdjust="spacingAndGlyphs" font-family="Liberation Serif" font-weight="bold" >RCVS</text>
<text x="60.30" y="174.80" font-size="16.5" fill="#000" stroke="#000" stroke-width="0.35" text-anchor="middle" font-family="Liberation Serif" font-weight="bold" >-2</text>
<text x="92.60" y="174.80" font-size="16.5" fill="#000" stroke="#000" stroke-width="0.35" text-anchor="middle" font-family="Liberation Serif" font-weight="bold" >-1</text>
<text x="125.20" y="174.80" font-size="16.5" fill="#000" stroke="#000" stroke-width="0.35" text-anchor="middle" font-family="Liberation Serif" font-weight="bold" >0</text>
<text x="157.50" y="174.80" font-size="16.5" fill="#000" stroke="#000" stroke-width="0.35" text-anchor="middle" font-family="Liberation Serif" font-weight="bold" >1</text>
<text x="189.80" y="174.80" font-size="16.5" fill="#000" stroke="#000" stroke-width="0.35" text-anchor="middle" font-family="Liberation Serif" font-weight="bold" >2</text>
<text x="205.69" y="171.50" font-size="16.5" fill="#000" stroke="#000" stroke-width="0.35" text-anchor="middle" font-family="Liberation Serif" font-weight="bold" >-4</text>
<text x="245.57" y="171.50" font-size="16.5" fill="#000" stroke="#000" stroke-width="0.35" text-anchor="middle" font-family="Liberation Serif" font-weight="bold" >-2</text>
<text x="285.75" y="171.50" font-size="16.5" fill="#000" stroke="#000" stroke-width="0.35" text-anchor="middle" font-family="Liberation Serif" font-weight="bold" >0</text>
<text x="325.63" y="171.50" font-size="16.5" fill="#000" stroke="#000" stroke-width="0.35" text-anchor="middle" font-family="Liberation Serif" font-weight="bold" >2</text>
<text x="365.51" y="171.50" font-size="16.5" fill="#000" stroke="#000" stroke-width="0.35" text-anchor="middle" font-family="Liberation Serif" font-weight="bold" >4</text>
<text x="391.10" y="170.80" font-size="16.5" fill="#000" stroke="#000" stroke-width="0.35" text-anchor="middle" font-family="Liberation Serif" font-weight="bold" >-4</text>
<text x="418.30" y="170.80" font-size="16.5" fill="#000" stroke="#000" stroke-width="0.35" text-anchor="middle" font-family="Liberation Serif" font-weight="bold" >-2</text>
<text x="445.80" y="170.80" font-size="16.5" fill="#000" stroke="#000" stroke-width="0.35" text-anchor="middle" font-family="Liberation Serif" font-weight="bold" >0</text>
<text x="473.00" y="170.80" font-size="16.5" fill="#000" stroke="#000" stroke-width="0.35" text-anchor="middle" font-family="Liberation Serif" font-weight="bold" >2</text>
<text x="500.20" y="170.80" font-size="16.5" fill="#000" stroke="#000" stroke-width="0.35" text-anchor="middle" font-family="Liberation Serif" font-weight="bold" >4</text>
<text x="527.40" y="170.80" font-size="16.5" fill="#000" stroke="#000" stroke-width="0.35" text-anchor="middle" font-family="Liberation Serif" font-weight="bold" >6</text>
<text x="36.60" y="38.58" font-size="16.5" fill="#000" stroke="#000" stroke-width="0.35" text-anchor="end" font-family="Liberation Serif" font-weight="bold" >20</text>
<text x="36.60" y="83.30" font-size="16.5" fill="#000" stroke="#000" stroke-width="0.35" text-anchor="end" font-family="Liberation Serif" font-weight="bold" >0</text>
<text x="36.60" y="128.02" font-size="16.5" fill="#000" stroke="#000" stroke-width="0.35" text-anchor="end" font-family="Liberation Serif" font-weight="bold" >-20</text>
<text x="85.10" y="189.40" font-size="16" fill="#000" stroke="#000" stroke-width="0.35" text-anchor="start" textLength="75.0" lengthAdjust="spacingAndGlyphs" font-family="Liberation Serif" font-weight="bold" >Voltage (V)</text>
<text x="247.00" y="189.50" font-size="16" fill="#000" stroke="#000" stroke-width="0.35" text-anchor="start" textLength="78.8" lengthAdjust="spacingAndGlyphs" font-family="Liberation Serif" font-weight="bold" >Voltage (V)</text>
<text x="408.60" y="189.80" font-size="16" fill="#000" stroke="#000" stroke-width="0.35" text-anchor="start" textLength="81.8" lengthAdjust="spacingAndGlyphs" font-family="Liberation Serif" font-weight="bold" >Voltage (V)</text>
<text transform="translate(11.8,114.2) rotate(-90)" font-size="16" textLength="69" lengthAdjust="spacingAndGlyphs" stroke="#000" stroke-width="0.35" font-family="Liberation Serif" font-weight="bold"><tspan font-style="italic">P</tspan> (μC/cm<tspan font-size="10" dy="-6">2</tspan><tspan dy="6">)</tspan></text>
<path d="M62.60,238.00 L97.15,238.00 L124.04,238.00 L148.18,238.00 L158.59,238.00 L175.07,238.00 L185.47,238.00 L195.87,238.00" stroke="#1438f0" stroke-width="2.0" fill="none"/>
<path d="M97.15,231.30V244.70M93.90,231.30h6.5M93.90,244.70h6.5" stroke="#1438f0" stroke-width="1.6" fill="none"/>
<path d="M148.18,231.50V244.50M144.93,231.50h6.5M144.93,244.50h6.5" stroke="#1438f0" stroke-width="1.6" fill="none"/>
<path d="M158.59,231.50V244.50M155.34,231.50h6.5M155.34,244.50h6.5" stroke="#1438f0" stroke-width="1.6" fill="none"/>
<path d="M175.07,231.00V245.00M171.82,231.00h6.5M171.82,245.00h6.5" stroke="#1438f0" stroke-width="1.6" fill="none"/>
<path d="M185.47,229.50V246.50M182.22,229.50h6.5M182.22,246.50h6.5" stroke="#1438f0" stroke-width="1.6" fill="none"/>
<path d="M195.87,229.00V247.00M192.62,229.00h6.5M192.62,247.00h6.5" stroke="#1438f0" stroke-width="1.6" fill="none"/>
<circle cx="62.60" cy="238.00" r="6.20" fill="#1438f0"/>
<circle cx="97.15" cy="238.00" r="6.20" fill="#1438f0"/>
<circle cx="124.04" cy="238.00" r="6.20" fill="#1438f0"/>
<circle cx="148.18" cy="238.00" r="6.20" fill="#1438f0"/>
<circle cx="158.59" cy="238.00" r="6.20" fill="#1438f0"/>
<circle cx="175.07" cy="238.00" r="6.20" fill="#1438f0"/>
<circle cx="185.47" cy="238.00" r="6.20" fill="#1438f0"/>
<circle cx="195.87" cy="238.00" r="6.20" fill="#1438f0"/>
<path d="M62.60,307.00 L97.15,306.50 L124.04,306.50 L148.18,304.30 L158.59,304.30 L175.07,304.30 L185.47,303.80 L195.87,304.30" stroke="#1438f0" stroke-width="2.0" fill="none"/>
<path d="M97.15,300.50V312.50M93.90,300.50h6.5M93.90,312.50h6.5" stroke="#1438f0" stroke-width="1.6" fill="none"/>
<path d="M124.04,300.00V313.00M120.79,300.00h6.5M120.79,313.00h6.5" stroke="#1438f0" stroke-width="1.6" fill="none"/>
<path d="M185.47,295.80V311.80M182.22,295.80h6.5M182.22,311.80h6.5" stroke="#1438f0" stroke-width="1.6" fill="none"/>
<path d="M195.87,295.30V313.30M192.62,295.30h6.5M192.62,313.30h6.5" stroke="#1438f0" stroke-width="1.6" fill="none"/>
<circle cx="62.60" cy="307.00" r="5.10" fill="#fff" stroke="#1438f0" stroke-width="2.2"/>
<circle cx="97.15" cy="306.50" r="5.10" fill="#fff" stroke="#1438f0" stroke-width="2.2"/>
<circle cx="124.04" cy="306.50" r="5.10" fill="#fff" stroke="#1438f0" stroke-width="2.2"/>
<circle cx="148.18" cy="304.30" r="5.10" fill="#fff" stroke="#1438f0" stroke-width="2.2"/>
<circle cx="158.59" cy="304.30" r="5.10" fill="#fff" stroke="#1438f0" stroke-width="2.2"/>
<circle cx="175.07" cy="304.30" r="5.10" fill="#fff" stroke="#1438f0" stroke-width="2.2"/>
<circle cx="185.47" cy="303.80" r="5.10" fill="#fff" stroke="#1438f0" stroke-width="2.2"/>
<circle cx="195.87" cy="304.30" r="5.10" fill="#fff" stroke="#1438f0" stroke-width="2.2"/>
<path d="M62.60,238.30 L97.15,238.30 L124.04,238.30 L148.18,238.30 L158.59,238.30 L175.07,238.30 L185.47,238.30 L195.87,238.30" stroke="#ff0000" stroke-width="2.0" fill="none"/>
<path d="M185.47,229.70V246.90M182.22,229.70h6.5M182.22,246.90h6.5" stroke="#ff0000" stroke-width="1.6" fill="none"/>
<path d="M195.87,225.30V251.30M192.62,225.30h6.5M192.62,251.30h6.5" stroke="#ff0000" stroke-width="1.6" fill="none"/>
<circle cx="62.60" cy="238.30" r="6.20" fill="#ff0000"/>
<circle cx="97.15" cy="238.30" r="6.20" fill="#ff0000"/>
<circle cx="124.04" cy="238.30" r="6.20" fill="#ff0000"/>
<circle cx="148.18" cy="238.30" r="6.20" fill="#ff0000"/>
<circle cx="158.59" cy="238.30" r="6.20" fill="#ff0000"/>
<circle cx="175.07" cy="238.30" r="6.20" fill="#ff0000"/>
<circle cx="185.47" cy="238.30" r="6.20" fill="#ff0000"/>
<circle cx="195.87" cy="238.30" r="6.20" fill="#ff0000"/>
<path d="M62.60,308.30 L97.15,308.80 L124.04,309.00 L148.18,308.80 L158.59,308.80 L175.07,308.80 L185.47,308.50 L195.87,308.50" stroke="#ff0000" stroke-width="2.0" fill="none"/>
<path d="M124.04,302.50V315.50M120.79,302.50h6.5M120.79,315.50h6.5" stroke="#ff0000" stroke-width="1.6" fill="none"/>
<path d="M148.18,300.50V317.10M144.93,300.50h6.5M144.93,317.10h6.5" stroke="#ff0000" stroke-width="1.6" fill="none"/>
<path d="M175.07,302.10V315.50M171.82,302.10h6.5M171.82,315.50h6.5" stroke="#ff0000" stroke-width="1.6" fill="none"/>
<path d="M195.87,296.20V320.80M192.62,296.20h6.5M192.62,320.80h6.5" stroke="#ff0000" stroke-width="1.6" fill="none"/>
<circle cx="62.60" cy="308.30" r="5.10" fill="#fff" stroke="#ff0000" stroke-width="2.2"/>
<circle cx="97.15" cy="308.80" r="5.10" fill="#fff" stroke="#ff0000" stroke-width="2.2"/>
<circle cx="124.04" cy="309.00" r="5.10" fill="#fff" stroke="#ff0000" stroke-width="2.2"/>
<circle cx="148.18" cy="308.80" r="5.10" fill="#fff" stroke="#ff0000" stroke-width="2.2"/>
<circle cx="158.59" cy="308.80" r="5.10" fill="#fff" stroke="#ff0000" stroke-width="2.2"/>
<circle cx="175.07" cy="308.80" r="5.10" fill="#fff" stroke="#ff0000" stroke-width="2.2"/>
<circle cx="185.47" cy="308.50" r="5.10" fill="#fff" stroke="#ff0000" stroke-width="2.2"/>
<circle cx="195.87" cy="308.50" r="5.10" fill="#fff" stroke="#ff0000" stroke-width="2.2"/>
<path d="M97.15,306.30V311.30M93.90,306.30h6.5M93.90,311.30h6.5" stroke="#ff0000" stroke-width="1.6" fill="none"/>
<path d="M224.10,227.50 L257.65,228.00 L283.76,228.30 L307.21,228.20 L317.31,228.20 L333.31,228.20 L343.41,228.20 L353.51,228.20" stroke="#1438f0" stroke-width="2.0" fill="none"/>
<path d="M317.31,221.70V234.70M314.06,221.70h6.5M314.06,234.70h6.5" stroke="#1438f0" stroke-width="1.6" fill="none"/>
<path d="M333.31,221.70V234.70M330.06,221.70h6.5M330.06,234.70h6.5" stroke="#1438f0" stroke-width="1.6" fill="none"/>
<path d="M353.51,221.70V234.70M350.26,221.70h6.5M350.26,234.70h6.5" stroke="#1438f0" stroke-width="1.6" fill="none"/>
<circle cx="224.10" cy="227.50" r="6.20" fill="#1438f0"/>
<circle cx="257.65" cy="228.00" r="6.20" fill="#1438f0"/>
<circle cx="283.76" cy="228.30" r="6.20" fill="#1438f0"/>
<circle cx="307.21" cy="228.20" r="6.20" fill="#1438f0"/>
<circle cx="317.31" cy="228.20" r="6.20" fill="#1438f0"/>
<circle cx="333.31" cy="228.20" r="6.20" fill="#1438f0"/>
<circle cx="343.41" cy="228.20" r="6.20" fill="#1438f0"/>
<circle cx="353.51" cy="228.20" r="6.20" fill="#1438f0"/>
<path d="M224.10,321.00 L257.65,320.00 L283.76,318.20 L307.21,317.50 L317.31,317.50 L333.31,317.50 L343.41,317.50 L353.51,317.30" stroke="#1438f0" stroke-width="2.0" fill="none"/>
<path d="M317.31,311.30V323.70M314.06,311.30h6.5M314.06,323.70h6.5" stroke="#1438f0" stroke-width="1.6" fill="none"/>
<path d="M333.31,311.30V323.70M330.06,311.30h6.5M330.06,323.70h6.5" stroke="#1438f0" stroke-width="1.6" fill="none"/>
<path d="M353.51,309.50V325.10M350.26,309.50h6.5M350.26,325.10h6.5" stroke="#1438f0" stroke-width="1.6" fill="none"/>
<circle cx="224.10" cy="321.00" r="5.10" fill="#fff" stroke="#1438f0" stroke-width="2.2"/>
<circle cx="257.65" cy="320.00" r="5.10" fill="#fff" stroke="#1438f0" stroke-width="2.2"/>
<circle cx="283.76" cy="318.20" r="5.10" fill="#fff" stroke="#1438f0" stroke-width="2.2"/>
<circle cx="307.21" cy="317.50" r="5.10" fill="#fff" stroke="#1438f0" stroke-width="2.2"/>
<circle cx="317.31" cy="317.50" r="5.10" fill="#fff" stroke="#1438f0" stroke-width="2.2"/>
<circle cx="333.31" cy="317.50" r="5.10" fill="#fff" stroke="#1438f0" stroke-width="2.2"/>
<circle cx="343.41" cy="317.50" r="5.10" fill="#fff" stroke="#1438f0" stroke-width="2.2"/>
<circle cx="353.51" cy="317.30" r="5.10" fill="#fff" stroke="#1438f0" stroke-width="2.2"/>
<path d="M224.10,228.50 L257.65,229.00 L283.76,229.30 L307.21,229.70 L317.31,229.70 L333.31,229.70 L343.41,229.70 L353.51,229.70" stroke="#ff0000" stroke-width="2.0" fill="none"/>
<path d="M353.51,229.20V238.30M350.26,229.20h6.5M350.26,238.30h6.5" stroke="#ff0000" stroke-width="1.6" fill="none"/>
<circle cx="224.10" cy="228.50" r="6.20" fill="#ff0000"/>
<circle cx="257.65" cy="229.00" r="6.20" fill="#ff0000"/>
<circle cx="283.76" cy="229.30" r="6.20" fill="#ff0000"/>
<circle cx="307.21" cy="229.70" r="6.20" fill="#ff0000"/>
<circle cx="317.31" cy="229.70" r="6.20" fill="#ff0000"/>
<circle cx="333.31" cy="229.70" r="6.20" fill="#ff0000"/>
<circle cx="343.41" cy="229.70" r="6.20" fill="#ff0000"/>
<circle cx="353.51" cy="229.70" r="6.20" fill="#ff0000"/>
<path d="M224.10,320.00 L257.65,320.00 L283.76,319.70 L307.21,319.70 L317.31,319.70 L333.31,319.70 L343.41,319.70 L353.51,319.70" stroke="#ff0000" stroke-width="2.0" fill="none"/>
<circle cx="224.10" cy="320.00" r="5.10" fill="#fff" stroke="#ff0000" stroke-width="2.2"/>
<circle cx="257.65" cy="320.00" r="5.10" fill="#fff" stroke="#ff0000" stroke-width="2.2"/>
<circle cx="283.76" cy="319.70" r="5.10" fill="#fff" stroke="#ff0000" stroke-width="2.2"/>
<circle cx="307.21" cy="319.70" r="5.10" fill="#fff" stroke="#ff0000" stroke-width="2.2"/>
<circle cx="317.31" cy="319.70" r="5.10" fill="#fff" stroke="#ff0000" stroke-width="2.2"/>
<circle cx="333.31" cy="319.70" r="5.10" fill="#fff" stroke="#ff0000" stroke-width="2.2"/>
<circle cx="343.41" cy="319.70" r="5.10" fill="#fff" stroke="#ff0000" stroke-width="2.2"/>
<circle cx="353.51" cy="319.70" r="5.10" fill="#fff" stroke="#ff0000" stroke-width="2.2"/>
<path d="M224.10,317.00V323.00M220.85,317.00h6.5M220.85,323.00h6.5" stroke="#ff0000" stroke-width="1.6" fill="none"/>
<path d="M257.65,317.00V323.00M254.40,317.00h6.5M254.40,323.00h6.5" stroke="#ff0000" stroke-width="1.6" fill="none"/>
<path d="M353.51,314.90V324.50M350.26,314.90h6.5M350.26,324.50h6.5" stroke="#ff0000" stroke-width="1.6" fill="none"/>
<path d="M382.80,231.00 L417.20,228.50 L443.97,228.00 L468.01,227.00 L478.37,227.00" stroke="#1438f0" stroke-width="2.0" fill="none"/>
<path d="M443.97,217.20V238.80M440.72,217.20h6.5M440.72,238.80h6.5" stroke="#1438f0" stroke-width="1.6" fill="none"/>
<path d="M468.01,218.00V236.00M464.76,218.00h6.5M464.76,236.00h6.5" stroke="#1438f0" stroke-width="1.6" fill="none"/>
<path d="M478.37,216.30V237.70M475.12,216.30h6.5M475.12,237.70h6.5" stroke="#1438f0" stroke-width="1.6" fill="none"/>
<circle cx="382.80" cy="231.00" r="6.20" fill="#1438f0"/>
<circle cx="417.20" cy="228.50" r="6.20" fill="#1438f0"/>
<circle cx="443.97" cy="228.00" r="6.20" fill="#1438f0"/>
<circle cx="468.01" cy="227.00" r="6.20" fill="#1438f0"/>
<circle cx="478.37" cy="227.00" r="6.20" fill="#1438f0"/>
<path d="M478.37,227 L486.57,197.5" stroke="#1438f0" stroke-width="2" fill="none"/>
<path d="M382.80,317.00 L417.20,315.00 L443.97,315.50 L468.01,314.30 L478.37,314.30" stroke="#1438f0" stroke-width="2.0" fill="none"/>
<path d="M443.97,306.80V324.20M440.72,306.80h6.5M440.72,324.20h6.5" stroke="#1438f0" stroke-width="1.6" fill="none"/>
<path d="M468.01,304.30V324.30M464.76,304.30h6.5M464.76,324.30h6.5" stroke="#1438f0" stroke-width="1.6" fill="none"/>
<path d="M478.37,302.30V326.30M475.12,302.30h6.5M475.12,326.30h6.5" stroke="#1438f0" stroke-width="1.6" fill="none"/>
<circle cx="382.80" cy="317.00" r="5.10" fill="#fff" stroke="#1438f0" stroke-width="2.2"/>
<circle cx="417.20" cy="315.00" r="5.10" fill="#fff" stroke="#1438f0" stroke-width="2.2"/>
<circle cx="443.97" cy="315.50" r="5.10" fill="#fff" stroke="#1438f0" stroke-width="2.2"/>
<circle cx="468.01" cy="314.30" r="5.10" fill="#fff" stroke="#1438f0" stroke-width="2.2"/>
<circle cx="478.37" cy="314.30" r="5.10" fill="#fff" stroke="#1438f0" stroke-width="2.2"/>
<path d="M417.20,309.80V320.20M413.95,309.80h6.5M413.95,320.20h6.5" stroke="#1438f0" stroke-width="1.6" fill="none"/>
<path d="M478.37,315 L487.37,349" stroke="#1438f0" stroke-width="2" fill="none"/>
<path d="M382.80,229.70 L417.20,229.70 L443.97,229.70 L468.01,230.20 L478.37,230.80 L494.78,231.20 L505.14,231.50 L515.49,231.50" stroke="#ff0000" stroke-width="2.0" fill="none"/>
<path d="M505.14,225.00V238.00M501.89,225.00h6.5M501.89,238.00h6.5" stroke="#ff0000" stroke-width="1.6" fill="none"/>
<path d="M515.49,225.00V238.00M512.24,225.00h6.5M512.24,238.00h6.5" stroke="#ff0000" stroke-width="1.6" fill="none"/>
<circle cx="382.80" cy="229.70" r="6.20" fill="#ff0000"/>
<circle cx="417.20" cy="229.70" r="6.20" fill="#ff0000"/>
<circle cx="443.97" cy="229.70" r="6.20" fill="#ff0000"/>
<circle cx="468.01" cy="230.20" r="6.20" fill="#ff0000"/>
<circle cx="478.37" cy="230.80" r="6.20" fill="#ff0000"/>
<circle cx="494.78" cy="231.20" r="6.20" fill="#ff0000"/>
<circle cx="505.14" cy="231.50" r="6.20" fill="#ff0000"/>
<circle cx="515.49" cy="231.50" r="6.20" fill="#ff0000"/>
<path d="M382.80,317.30 L417.20,319.20 L443.97,319.50 L468.01,319.50 L478.37,319.50 L494.78,319.50 L505.14,319.50 L515.49,319.50" stroke="#ff0000" stroke-width="2.0" fill="none"/>
<path d="M494.78,313.00V326.00M491.53,313.00h6.5M491.53,326.00h6.5" stroke="#ff0000" stroke-width="1.6" fill="none"/>
<path d="M505.14,313.00V326.00M501.89,313.00h6.5M501.89,326.00h6.5" stroke="#ff0000" stroke-width="1.6" fill="none"/>
<path d="M515.49,313.00V326.00M512.24,313.00h6.5M512.24,326.00h6.5" stroke="#ff0000" stroke-width="1.6" fill="none"/>
<circle cx="382.80" cy="317.30" r="5.10" fill="#fff" stroke="#ff0000" stroke-width="2.2"/>
<circle cx="417.20" cy="319.20" r="5.10" fill="#fff" stroke="#ff0000" stroke-width="2.2"/>
<circle cx="443.97" cy="319.50" r="5.10" fill="#fff" stroke="#ff0000" stroke-width="2.2"/>
<circle cx="468.01" cy="319.50" r="5.10" fill="#fff" stroke="#ff0000" stroke-width="2.2"/>
<circle cx="478.37" cy="319.50" r="5.10" fill="#fff" stroke="#ff0000" stroke-width="2.2"/>
<circle cx="494.78" cy="319.50" r="5.10" fill="#fff" stroke="#ff0000" stroke-width="2.2"/>
<circle cx="505.14" cy="319.50" r="5.10" fill="#fff" stroke="#ff0000" stroke-width="2.2"/>
<circle cx="515.49" cy="319.50" r="5.10" fill="#fff" stroke="#ff0000" stroke-width="2.2"/>
<path d="M382.80,314.30V320.30M379.55,314.30h6.5M379.55,320.30h6.5" stroke="#ff0000" stroke-width="1.6" fill="none"/>
<path d="M443.97,316.50V322.50M440.72,316.50h6.5M440.72,322.50h6.5" stroke="#ff0000" stroke-width="1.6" fill="none"/>
<path d="M56.30,210.50H90.00" stroke="#1438f0" stroke-width="2.3"/>
<circle cx="73.15" cy="210.50" r="5.70" fill="#1438f0"/>
<text x="95.00" y="218.60" font-size="16.5" fill="#000" stroke="#000" stroke-width="0.35" text-anchor="start" textLength="43.3" lengthAdjust="spacingAndGlyphs" font-family="Liberation Serif" font-weight="bold" >FCVS</text>
<path d="M56.00,335.40H90.30" stroke="#ff0000" stroke-width="2.3"/>
<circle cx="73.15" cy="335.40" r="5.70" fill="#ff0000"/>
<text x="95.30" y="343.20" font-size="16.5" fill="#000" stroke="#000" stroke-width="0.35" text-anchor="start" textLength="43.6" lengthAdjust="spacingAndGlyphs" font-family="Liberation Serif" font-weight="bold" >RCVS</text>
<path d="M219.80,205.00H255.80" stroke="#1438f0" stroke-width="2.3"/>
<circle cx="237.80" cy="205.00" r="5.70" fill="#1438f0"/>
<text x="261.90" y="210.60" font-size="16.5" fill="#000" stroke="#000" stroke-width="0.35" text-anchor="start" textLength="43.6" lengthAdjust="spacingAndGlyphs" font-family="Liberation Serif" font-weight="bold" >FCVS</text>
<path d="M222.00,339.50H257.30" stroke="#ff0000" stroke-width="2.3"/>
<circle cx="239.65" cy="339.50" r="5.70" fill="#ff0000"/>
<text x="260.60" y="345.50" font-size="16.5" fill="#000" stroke="#000" stroke-width="0.35" text-anchor="start" textLength="44.3" lengthAdjust="spacingAndGlyphs" font-family="Liberation Serif" font-weight="bold" >RCVS</text>
<path d="M371.10,210.10H406.60" stroke="#1438f0" stroke-width="2.3"/>
<circle cx="388.85" cy="210.10" r="5.70" fill="#1438f0"/>
<text x="414.60" y="214.60" font-size="16.5" fill="#000" stroke="#000" stroke-width="0.35" text-anchor="start" textLength="43.2" lengthAdjust="spacingAndGlyphs" font-family="Liberation Serif" font-weight="bold" >FCVS</text>
<path d="M371.10,339.30H406.60" stroke="#ff0000" stroke-width="2.3"/>
<circle cx="388.85" cy="339.30" r="5.70" fill="#ff0000"/>
<text x="414.30" y="345.20" font-size="16.5" fill="#000" stroke="#000" stroke-width="0.35" text-anchor="start" textLength="45.1" lengthAdjust="spacingAndGlyphs" font-family="Liberation Serif" font-weight="bold" >RCVS</text>
<text x="185.90" y="214.50" font-size="16" fill="#000" stroke="#000" stroke-width="0.35" text-anchor="start" textLength="19.5" lengthAdjust="spacingAndGlyphs" font-family="Liberation Serif" font-weight="bold" >(d)</text>
<text x="346.90" y="207.80" font-size="16" fill="#000" stroke="#000" stroke-width="0.35" text-anchor="start" textLength="19.9" lengthAdjust="spacingAndGlyphs" font-family="Liberation Serif" font-weight="bold" >(e)</text>
<text x="508.60" y="213.60" font-size="16" fill="#000" stroke="#000" stroke-width="0.35" text-anchor="start" textLength="15.6" lengthAdjust="spacingAndGlyphs" font-family="Liberation Serif" font-weight="bold" >(f)</text>
<text x="61.00" y="268.00" font-size="16.5" fill="#17a050" stroke="#17a050" stroke-width="0.35" text-anchor="start" textLength="74.1" lengthAdjust="spacingAndGlyphs" font-family="Liberation Serif" font-weight="bold" ><tspan font-style="italic">t</tspan><tspan font-size="11.2" dy="3.4">HZO</tspan><tspan dy="-3.4">: 6 nm</tspan></text>
<text x="226.20" y="260.10" font-size="16.5" fill="#ff0000" stroke="#ff0000" stroke-width="0.35" text-anchor="start" textLength="83.7" lengthAdjust="spacingAndGlyphs" font-family="Liberation Serif" font-weight="bold" ><tspan font-style="italic">t</tspan><tspan font-size="11.2" dy="3.4">HZO</tspan><tspan dy="-3.4">: 10 nm</tspan></text>
<text x="381.00" y="263.00" font-size="16.5" fill="#1c3ce8" stroke="#1c3ce8" stroke-width="0.35" text-anchor="start" textLength="83.1" lengthAdjust="spacingAndGlyphs" font-family="Liberation Serif" font-weight="bold" ><tspan font-style="italic">t</tspan><tspan font-size="11.2" dy="3.4">HZO</tspan><tspan dy="-3.4">: 20 nm</tspan></text>
<text x="58.80" y="295.30" font-size="16.5" fill="#000" stroke="#000" stroke-width="0.35" text-anchor="start" textLength="143.1" lengthAdjust="spacingAndGlyphs" font-family="Liberation Serif" font-weight="bold" >Solid: <tspan font-style="italic">P</tspan><tspan font-size="11.5" dy="3.6">r</tspan><tspan font-size="12" dy="-9.6" dx="-1.2">+</tspan><tspan dy="6">, Open: </tspan><tspan font-style="italic">P</tspan><tspan font-size="11.5" dy="3.6">r</tspan><tspan font-size="13" dy="-9.6" dx="-0.5">-</tspan></text>
<text x="221.00" y="287.20" font-size="16.5" fill="#000" stroke="#000" stroke-width="0.35" text-anchor="start" textLength="144.1" lengthAdjust="spacingAndGlyphs" font-family="Liberation Serif" font-weight="bold" >Solid: <tspan font-style="italic">P</tspan><tspan font-size="11.5" dy="3.6">r</tspan><tspan font-size="12" dy="-9.6" dx="-1.2">+</tspan><tspan dy="6">, Open: </tspan><tspan font-style="italic">P</tspan><tspan font-size="11.5" dy="3.6">r</tspan><tspan font-size="13" dy="-9.6" dx="-0.5">-</tspan></text>
<text x="379.80" y="292.10" font-size="16.5" fill="#000" stroke="#000" stroke-width="0.35" text-anchor="start" textLength="143.9" lengthAdjust="spacingAndGlyphs" font-family="Liberation Serif" font-weight="bold" >Solid: <tspan font-style="italic">P</tspan><tspan font-size="11.5" dy="3.6">r</tspan><tspan font-size="12" dy="-9.6" dx="-1.2">+</tspan><tspan dy="6">, Open: </tspan><tspan font-style="italic">P</tspan><tspan font-size="11.5" dy="3.6">r</tspan><tspan font-size="13" dy="-9.6" dx="-0.5">-</tspan></text>
<text x="62.30" y="372.60" font-size="16.5" text-anchor="middle" stroke="#000" stroke-width="0.35" font-family="Liberation Serif" font-weight="bold">10<tspan font-size="9.8" dx="1" dy="-6.8">0</tspan></text>
<text x="96.85" y="372.60" font-size="16.5" text-anchor="middle" stroke="#000" stroke-width="0.35" font-family="Liberation Serif" font-weight="bold">10<tspan font-size="9.8" dx="1" dy="-6.8">1</tspan></text>
<text x="131.40" y="372.60" font-size="16.5" text-anchor="middle" stroke="#000" stroke-width="0.35" font-family="Liberation Serif" font-weight="bold">10<tspan font-size="9.8" dx="1" dy="-6.8">2</tspan></text>
<text x="165.95" y="372.60" font-size="16.5" text-anchor="middle" stroke="#000" stroke-width="0.35" font-family="Liberation Serif" font-weight="bold">10<tspan font-size="9.8" dx="1" dy="-6.8">3</tspan></text>
<text x="200.50" y="372.60" font-size="16.5" text-anchor="middle" stroke="#000" stroke-width="0.35" font-family="Liberation Serif" font-weight="bold">10<tspan font-size="9.8" dx="1" dy="-6.8">4</tspan></text>
<text x="223.80" y="372.60" font-size="16.5" text-anchor="middle" stroke="#000" stroke-width="0.35" font-family="Liberation Serif" font-weight="bold">10<tspan font-size="9.8" dx="1" dy="-6.8">0</tspan></text>
<text x="257.35" y="372.60" font-size="16.5" text-anchor="middle" stroke="#000" stroke-width="0.35" font-family="Liberation Serif" font-weight="bold">10<tspan font-size="9.8" dx="1" dy="-6.8">1</tspan></text>
<text x="290.90" y="372.60" font-size="16.5" text-anchor="middle" stroke="#000" stroke-width="0.35" font-family="Liberation Serif" font-weight="bold">10<tspan font-size="9.8" dx="1" dy="-6.8">2</tspan></text>
<text x="324.45" y="372.60" font-size="16.5" text-anchor="middle" stroke="#000" stroke-width="0.35" font-family="Liberation Serif" font-weight="bold">10<tspan font-size="9.8" dx="1" dy="-6.8">3</tspan></text>
<text x="358.00" y="372.60" font-size="16.5" text-anchor="middle" stroke="#000" stroke-width="0.35" font-family="Liberation Serif" font-weight="bold">10<tspan font-size="9.8" dx="1" dy="-6.8">4</tspan></text>
<text x="382.50" y="372.60" font-size="16.5" text-anchor="middle" stroke="#000" stroke-width="0.35" font-family="Liberation Serif" font-weight="bold">10<tspan font-size="9.8" dx="1" dy="-6.8">0</tspan></text>
<text x="416.90" y="372.60" font-size="16.5" text-anchor="middle" stroke="#000" stroke-width="0.35" font-family="Liberation Serif" font-weight="bold">10<tspan font-size="9.8" dx="1" dy="-6.8">1</tspan></text>
<text x="451.30" y="372.60" font-size="16.5" text-anchor="middle" stroke="#000" stroke-width="0.35" font-family="Liberation Serif" font-weight="bold">10<tspan font-size="9.8" dx="1" dy="-6.8">2</tspan></text>
<text x="485.70" y="372.60" font-size="16.5" text-anchor="middle" stroke="#000" stroke-width="0.35" font-family="Liberation Serif" font-weight="bold">10<tspan font-size="9.8" dx="1" dy="-6.8">3</tspan></text>
<text x="520.10" y="372.60" font-size="16.5" text-anchor="middle" stroke="#000" stroke-width="0.35" font-family="Liberation Serif" font-weight="bold">10<tspan font-size="9.8" dx="1" dy="-6.8">4</tspan></text>
<text x="101.90" y="393.40" font-size="16.5" fill="#000" stroke="#000" stroke-width="0.35" text-anchor="start" textLength="57.9" lengthAdjust="spacingAndGlyphs" font-family="Liberation Serif" font-weight="bold" >Time (s)</text>
<text x="262.80" y="391.80" font-size="16.5" fill="#000" stroke="#000" stroke-width="0.35" text-anchor="start" textLength="57.6" lengthAdjust="spacingAndGlyphs" font-family="Liberation Serif" font-weight="bold" >Time (s)</text>
<text x="421.60" y="391.80" font-size="16.5" fill="#000" stroke="#000" stroke-width="0.35" text-anchor="start" textLength="58.2" lengthAdjust="spacingAndGlyphs" font-family="Liberation Serif" font-weight="bold" >Time (s)</text>
<text x="43.30" y="234.80" font-size="16.5" fill="#000" stroke="#000" stroke-width="0.35" text-anchor="end" font-family="Liberation Serif" font-weight="bold" >20</text>
<text x="43.30" y="278.50" font-size="16.5" fill="#000" stroke="#000" stroke-width="0.35" text-anchor="end" font-family="Liberation Serif" font-weight="bold" >0</text>
<text x="43.30" y="322.20" font-size="16.5" fill="#000" stroke="#000" stroke-width="0.35" text-anchor="end" font-family="Liberation Serif" font-weight="bold" >-20</text>
<path d="M62.60,349.40v-5M62.60,196.20v5M97.15,349.40v-5M97.15,196.20v5M131.70,349.40v-5M131.70,196.20v5M166.25,349.40v-5M166.25,196.20v5M200.80,349.40v-5M200.80,196.20v5M52.20,349.40v-2.8M52.20,196.20v2.8M54.94,349.40v-2.8M54.94,196.20v2.8M57.25,349.40v-2.8M57.25,196.20v2.8M59.25,349.40v-2.8M59.25,196.20v2.8M61.02,349.40v-2.8M61.02,196.20v2.8M73.00,349.40v-2.8M73.00,196.20v2.8M79.08,349.40v-2.8M79.08,196.20v2.8M83.40,349.40v-2.8M83.40,196.20v2.8M86.75,349.40v-2.8M86.75,196.20v2.8M89.49,349.40v-2.8M89.49,196.20v2.8M91.80,349.40v-2.8M91.80,196.20v2.8M93.80,349.40v-2.8M93.80,196.20v2.8M95.57,349.40v-2.8M95.57,196.20v2.8M107.55,349.40v-2.8M107.55,196.20v2.8M113.63,349.40v-2.8M113.63,196.20v2.8M117.95,349.40v-2.8M117.95,196.20v2.8M121.30,349.40v-2.8M121.30,196.20v2.8M124.04,349.40v-2.8M124.04,196.20v2.8M126.35,349.40v-2.8M126.35,196.20v2.8M128.35,349.40v-2.8M128.35,196.20v2.8M130.12,349.40v-2.8M130.12,196.20v2.8M142.10,349.40v-2.8M142.10,196.20v2.8M148.18,349.40v-2.8M148.18,196.20v2.8M152.50,349.40v-2.8M152.50,196.20v2.8M155.85,349.40v-2.8M155.85,196.20v2.8M158.59,349.40v-2.8M158.59,196.20v2.8M160.90,349.40v-2.8M160.90,196.20v2.8M162.90,349.40v-2.8M162.90,196.20v2.8M164.67,349.40v-2.8M164.67,196.20v2.8M176.65,349.40v-2.8M176.65,196.20v2.8M182.73,349.40v-2.8M182.73,196.20v2.8M187.05,349.40v-2.8M187.05,196.20v2.8M190.40,349.40v-2.8M190.40,196.20v2.8M193.14,349.40v-2.8M193.14,196.20v2.8M195.45,349.40v-2.8M195.45,196.20v2.8M197.45,349.40v-2.8M197.45,196.20v2.8M199.22,349.40v-2.8M199.22,196.20v2.8M49.50,316.60h5M210.80,316.60h-5M49.50,272.90h5M210.80,272.90h-5M49.50,229.20h5M210.80,229.20h-5M49.50,338.45h2.8M210.80,338.45h-2.8M49.50,294.75h2.8M210.80,294.75h-2.8M49.50,251.05h2.8M210.80,251.05h-2.8M49.50,207.35h2.8M210.80,207.35h-2.8" stroke="#000" stroke-width="1.7" fill="none"/>
<rect x="49.50" y="196.20" width="161.30" height="153.20" stroke="#000" stroke-width="2.6" fill="none"/>
<path d="M224.10,349.40v-5M224.10,196.20v5M257.65,349.40v-5M257.65,196.20v5M291.20,349.40v-5M291.20,196.20v5M324.75,349.40v-5M324.75,196.20v5M358.30,349.40v-5M358.30,196.20v5M214.00,349.40v-2.8M214.00,196.20v2.8M216.66,349.40v-2.8M216.66,196.20v2.8M218.90,349.40v-2.8M218.90,196.20v2.8M220.85,349.40v-2.8M220.85,196.20v2.8M222.56,349.40v-2.8M222.56,196.20v2.8M234.20,349.40v-2.8M234.20,196.20v2.8M240.11,349.40v-2.8M240.11,196.20v2.8M244.30,349.40v-2.8M244.30,196.20v2.8M247.55,349.40v-2.8M247.55,196.20v2.8M250.21,349.40v-2.8M250.21,196.20v2.8M252.45,349.40v-2.8M252.45,196.20v2.8M254.40,349.40v-2.8M254.40,196.20v2.8M256.11,349.40v-2.8M256.11,196.20v2.8M267.75,349.40v-2.8M267.75,196.20v2.8M273.66,349.40v-2.8M273.66,196.20v2.8M277.85,349.40v-2.8M277.85,196.20v2.8M281.10,349.40v-2.8M281.10,196.20v2.8M283.76,349.40v-2.8M283.76,196.20v2.8M286.00,349.40v-2.8M286.00,196.20v2.8M287.95,349.40v-2.8M287.95,196.20v2.8M289.66,349.40v-2.8M289.66,196.20v2.8M301.30,349.40v-2.8M301.30,196.20v2.8M307.21,349.40v-2.8M307.21,196.20v2.8M311.40,349.40v-2.8M311.40,196.20v2.8M314.65,349.40v-2.8M314.65,196.20v2.8M317.31,349.40v-2.8M317.31,196.20v2.8M319.55,349.40v-2.8M319.55,196.20v2.8M321.50,349.40v-2.8M321.50,196.20v2.8M323.21,349.40v-2.8M323.21,196.20v2.8M334.85,349.40v-2.8M334.85,196.20v2.8M340.76,349.40v-2.8M340.76,196.20v2.8M344.95,349.40v-2.8M344.95,196.20v2.8M348.20,349.40v-2.8M348.20,196.20v2.8M350.86,349.40v-2.8M350.86,196.20v2.8M353.10,349.40v-2.8M353.10,196.20v2.8M355.05,349.40v-2.8M355.05,196.20v2.8M356.76,349.40v-2.8M356.76,196.20v2.8M210.80,316.60h5M368.90,316.60h-5M210.80,272.90h5M368.90,272.90h-5M210.80,229.20h5M368.90,229.20h-5M210.80,338.45h2.8M368.90,338.45h-2.8M210.80,294.75h2.8M368.90,294.75h-2.8M210.80,251.05h2.8M368.90,251.05h-2.8M210.80,207.35h2.8M368.90,207.35h-2.8" stroke="#000" stroke-width="1.7" fill="none"/>
<rect x="210.80" y="196.20" width="158.10" height="153.20" stroke="#000" stroke-width="2.6" fill="none"/>
<path d="M382.80,349.40v-5M382.80,196.20v5M417.20,349.40v-5M417.20,196.20v5M451.60,349.40v-5M451.60,196.20v5M486.00,349.40v-5M486.00,196.20v5M520.40,349.40v-5M520.40,196.20v5M372.44,349.40v-2.8M372.44,196.20v2.8M375.17,349.40v-2.8M375.17,196.20v2.8M377.47,349.40v-2.8M377.47,196.20v2.8M379.47,349.40v-2.8M379.47,196.20v2.8M381.23,349.40v-2.8M381.23,196.20v2.8M393.16,349.40v-2.8M393.16,196.20v2.8M399.21,349.40v-2.8M399.21,196.20v2.8M403.51,349.40v-2.8M403.51,196.20v2.8M406.84,349.40v-2.8M406.84,196.20v2.8M409.57,349.40v-2.8M409.57,196.20v2.8M411.87,349.40v-2.8M411.87,196.20v2.8M413.87,349.40v-2.8M413.87,196.20v2.8M415.63,349.40v-2.8M415.63,196.20v2.8M427.56,349.40v-2.8M427.56,196.20v2.8M433.61,349.40v-2.8M433.61,196.20v2.8M437.91,349.40v-2.8M437.91,196.20v2.8M441.24,349.40v-2.8M441.24,196.20v2.8M443.97,349.40v-2.8M443.97,196.20v2.8M446.27,349.40v-2.8M446.27,196.20v2.8M448.27,349.40v-2.8M448.27,196.20v2.8M450.03,349.40v-2.8M450.03,196.20v2.8M461.96,349.40v-2.8M461.96,196.20v2.8M468.01,349.40v-2.8M468.01,196.20v2.8M472.31,349.40v-2.8M472.31,196.20v2.8M475.64,349.40v-2.8M475.64,196.20v2.8M478.37,349.40v-2.8M478.37,196.20v2.8M480.67,349.40v-2.8M480.67,196.20v2.8M482.67,349.40v-2.8M482.67,196.20v2.8M484.43,349.40v-2.8M484.43,196.20v2.8M496.36,349.40v-2.8M496.36,196.20v2.8M502.41,349.40v-2.8M502.41,196.20v2.8M506.71,349.40v-2.8M506.71,196.20v2.8M510.04,349.40v-2.8M510.04,196.20v2.8M512.77,349.40v-2.8M512.77,196.20v2.8M515.07,349.40v-2.8M515.07,196.20v2.8M517.07,349.40v-2.8M517.07,196.20v2.8M518.83,349.40v-2.8M518.83,196.20v2.8M368.90,316.60h5M530.00,316.60h-5M368.90,272.90h5M530.00,272.90h-5M368.90,229.20h5M530.00,229.20h-5M368.90,338.45h2.8M530.00,338.45h-2.8M368.90,294.75h2.8M530.00,294.75h-2.8M368.90,251.05h2.8M530.00,251.05h-2.8M368.90,207.35h2.8M530.00,207.35h-2.8" stroke="#000" stroke-width="1.7" fill="none"/>
<rect x="368.90" y="196.20" width="161.10" height="153.20" stroke="#000" stroke-width="2.6" fill="none"/>
<text transform="translate(17.2,333.5) rotate(-90)" font-size="16" textLength="116" lengthAdjust="spacingAndGlyphs" stroke="#000" stroke-width="0.35" font-family="Liberation Serif" font-weight="bold"><tspan font-style="italic">P</tspan><tspan font-size="11" dy="3.5">r</tspan><tspan font-size="11" dy="-10" dx="-3">+</tspan><tspan dy="6.5">, </tspan><tspan font-style="italic">P</tspan><tspan font-size="11" dy="3.5">r</tspan><tspan font-size="11" dy="-10" dx="-3">-</tspan><tspan dy="6.5"> (μC/cm</tspan><tspan font-size="10" dy="-6">2</tspan><tspan dy="6">)</tspan></text>
<path d="M64.50,455.50 L98.70,457.30 L125.31,457.30 L149.22,456.80 L159.51,456.80 L175.83,458.30 L186.13,459.80 L196.42,460.50" stroke="#1438f0" stroke-width="2.0" fill="none" stroke-dasharray="6,3"/>
<path d="M149.22,450.40V463.20M145.97,450.40h6.5M145.97,463.20h6.5" stroke="#1438f0" stroke-width="1.6" fill="none"/>
<path d="M159.51,450.40V463.20M156.26,450.40h6.5M156.26,463.20h6.5" stroke="#1438f0" stroke-width="1.6" fill="none"/>
<path d="M186.13,452.30V467.30M182.88,452.30h6.5M182.88,467.30h6.5" stroke="#1438f0" stroke-width="1.6" fill="none"/>
<path d="M196.42,452.20V468.80M193.17,452.20h6.5M193.17,468.80h6.5" stroke="#1438f0" stroke-width="1.6" fill="none"/>
<circle cx="64.50" cy="455.50" r="6.20" fill="#1438f0"/>
<circle cx="98.70" cy="457.30" r="6.20" fill="#1438f0"/>
<circle cx="125.31" cy="457.30" r="6.20" fill="#1438f0"/>
<circle cx="149.22" cy="456.80" r="6.20" fill="#1438f0"/>
<circle cx="159.51" cy="456.80" r="6.20" fill="#1438f0"/>
<circle cx="175.83" cy="458.30" r="6.20" fill="#1438f0"/>
<circle cx="186.13" cy="459.80" r="6.20" fill="#1438f0"/>
<circle cx="196.42" cy="460.50" r="6.20" fill="#1438f0"/>
<path d="M98.70,452.30V462.30M95.45,452.30h6.5M95.45,462.30h6.5" stroke="#1438f0" stroke-width="1.6" fill="none"/>
<path d="M125.31,452.30V462.30M122.06,452.30h6.5M122.06,462.30h6.5" stroke="#1438f0" stroke-width="1.6" fill="none"/>
<path d="M64.50,516.50 L98.70,521.00 L125.31,523.70 L149.22,522.80 L159.51,522.80 L175.83,524.30 L186.13,527.30 L196.42,528.80" stroke="#1438f0" stroke-width="2.0" fill="none" stroke-dasharray="6,3"/>
<path d="M98.70,515.00V527.00M95.45,515.00h6.5M95.45,527.00h6.5" stroke="#1438f0" stroke-width="1.6" fill="none"/>
<path d="M149.22,515.30V530.30M145.97,515.30h6.5M145.97,530.30h6.5" stroke="#1438f0" stroke-width="1.6" fill="none"/>
<path d="M186.13,519.30V535.30M182.88,519.30h6.5M182.88,535.30h6.5" stroke="#1438f0" stroke-width="1.6" fill="none"/>
<path d="M196.42,519.10V538.50M193.17,519.10h6.5M193.17,538.50h6.5" stroke="#1438f0" stroke-width="1.6" fill="none"/>
<circle cx="64.50" cy="516.50" r="5.10" fill="#fff" stroke="#1438f0" stroke-width="2.2"/>
<circle cx="98.70" cy="521.00" r="5.10" fill="#fff" stroke="#1438f0" stroke-width="2.2"/>
<circle cx="125.31" cy="523.70" r="5.10" fill="#fff" stroke="#1438f0" stroke-width="2.2"/>
<circle cx="149.22" cy="522.80" r="5.10" fill="#fff" stroke="#1438f0" stroke-width="2.2"/>
<circle cx="159.51" cy="522.80" r="5.10" fill="#fff" stroke="#1438f0" stroke-width="2.2"/>
<circle cx="175.83" cy="524.30" r="5.10" fill="#fff" stroke="#1438f0" stroke-width="2.2"/>
<circle cx="186.13" cy="527.30" r="5.10" fill="#fff" stroke="#1438f0" stroke-width="2.2"/>
<circle cx="196.42" cy="528.80" r="5.10" fill="#fff" stroke="#1438f0" stroke-width="2.2"/>
<path d="M125.31,518.10V529.30M122.06,518.10h6.5M122.06,529.30h6.5" stroke="#1438f0" stroke-width="1.6" fill="none"/>
<path d="M64.50,453.50 L98.70,444.50 L125.31,441.20 L149.22,439.50 L159.51,437.30 L175.83,435.80 L186.13,435.00 L196.42,432.80" stroke="#ff0000" stroke-width="2.0" fill="none"/>
<path d="M175.83,429.20V442.40M172.58,429.20h6.5M172.58,442.40h6.5" stroke="#ff0000" stroke-width="1.6" fill="none"/>
<path d="M186.13,426.20V443.80M182.88,426.20h6.5M182.88,443.80h6.5" stroke="#ff0000" stroke-width="1.6" fill="none"/>
<path d="M196.42,420.30V445.30M193.17,420.30h6.5M193.17,445.30h6.5" stroke="#ff0000" stroke-width="1.6" fill="none"/>
<circle cx="64.50" cy="453.50" r="6.20" fill="#ff0000"/>
<circle cx="98.70" cy="444.50" r="6.20" fill="#ff0000"/>
<circle cx="125.31" cy="441.20" r="6.20" fill="#ff0000"/>
<circle cx="149.22" cy="439.50" r="6.20" fill="#ff0000"/>
<circle cx="159.51" cy="437.30" r="6.20" fill="#ff0000"/>
<circle cx="175.83" cy="435.80" r="6.20" fill="#ff0000"/>
<circle cx="186.13" cy="435.00" r="6.20" fill="#ff0000"/>
<circle cx="196.42" cy="432.80" r="6.20" fill="#ff0000"/>
<path d="M64.50,517.70 L98.70,516.80 L125.31,516.80 L149.22,516.00 L159.51,515.30 L175.83,513.80 L186.13,511.50 L196.42,511.20" stroke="#ff0000" stroke-width="2.0" fill="none"/>
<path d="M125.31,510.80V522.80M122.06,510.80h6.5M122.06,522.80h6.5" stroke="#ff0000" stroke-width="1.6" fill="none"/>
<path d="M149.22,507.60V524.40M145.97,507.60h6.5M145.97,524.40h6.5" stroke="#ff0000" stroke-width="1.6" fill="none"/>
<path d="M159.51,509.30V521.30M156.26,509.30h6.5M156.26,521.30h6.5" stroke="#ff0000" stroke-width="1.6" fill="none"/>
<path d="M196.42,501.20V521.20M193.17,501.20h6.5M193.17,521.20h6.5" stroke="#ff0000" stroke-width="1.6" fill="none"/>
<circle cx="64.50" cy="517.70" r="5.10" fill="#fff" stroke="#ff0000" stroke-width="2.2"/>
<circle cx="98.70" cy="516.80" r="5.10" fill="#fff" stroke="#ff0000" stroke-width="2.2"/>
<circle cx="125.31" cy="516.80" r="5.10" fill="#fff" stroke="#ff0000" stroke-width="2.2"/>
<circle cx="149.22" cy="516.00" r="5.10" fill="#fff" stroke="#ff0000" stroke-width="2.2"/>
<circle cx="159.51" cy="515.30" r="5.10" fill="#fff" stroke="#ff0000" stroke-width="2.2"/>
<circle cx="175.83" cy="513.80" r="5.10" fill="#fff" stroke="#ff0000" stroke-width="2.2"/>
<circle cx="186.13" cy="511.50" r="5.10" fill="#fff" stroke="#ff0000" stroke-width="2.2"/>
<circle cx="196.42" cy="511.20" r="5.10" fill="#fff" stroke="#ff0000" stroke-width="2.2"/>
<path d="M98.70,513.80V519.80M95.45,513.80h6.5M95.45,519.80h6.5" stroke="#ff0000" stroke-width="1.6" fill="none"/>
<path d="M186.13,505.80V517.20M182.88,505.80h6.5M182.88,517.20h6.5" stroke="#ff0000" stroke-width="1.6" fill="none"/>
<path d="M64.50,455.20H196.42" stroke="#8a8a8a" stroke-width="2.8" stroke-dasharray="7,4"/>
<path d="M196.42,455.20V439.30" stroke="#8a8a8a" stroke-width="2.2"/>
<path d="M191.82,441.80L196.42,434.30L201.02,441.80Z" fill="#8a8a8a"/>
<path d="M64.50,518.80H196.42" stroke="#8a8a8a" stroke-width="2.8" stroke-dasharray="7,4"/>
<path d="M196.42,518.80V529.30" stroke="#8a8a8a" stroke-width="2.2"/>
<path d="M191.82,526.80L196.42,534.30L201.02,526.80Z" fill="#8a8a8a"/>
<path d="M224.70,454.50 L258.30,457.70 L284.45,457.70 L307.93,459.30 L318.05,459.50 L334.08,460.50 L344.19,461.00 L354.31,461.30" stroke="#1438f0" stroke-width="2.0" fill="none"/>
<path d="M354.31,454.70V467.90M351.06,454.70h6.5M351.06,467.90h6.5" stroke="#1438f0" stroke-width="1.6" fill="none"/>
<circle cx="224.70" cy="454.50" r="6.20" fill="#1438f0"/>
<circle cx="258.30" cy="457.70" r="6.20" fill="#1438f0"/>
<circle cx="284.45" cy="457.70" r="6.20" fill="#1438f0"/>
<circle cx="307.93" cy="459.30" r="6.20" fill="#1438f0"/>
<circle cx="318.05" cy="459.50" r="6.20" fill="#1438f0"/>
<circle cx="334.08" cy="460.50" r="6.20" fill="#1438f0"/>
<circle cx="344.19" cy="461.00" r="6.20" fill="#1438f0"/>
<circle cx="354.31" cy="461.30" r="6.20" fill="#1438f0"/>
<path d="M318.05,454.50V464.50M314.80,454.50h6.5M314.80,464.50h6.5" stroke="#1438f0" stroke-width="1.6" fill="none"/>
<path d="M334.08,455.50V465.50M330.83,455.50h6.5M330.83,465.50h6.5" stroke="#1438f0" stroke-width="1.6" fill="none"/>
<path d="M224.70,517.00 L258.30,521.80 L284.45,522.50 L307.93,523.50 L318.05,525.80 L334.08,525.80 L344.19,526.50 L354.31,527.70" stroke="#1438f0" stroke-width="2.0" fill="none"/>
<circle cx="224.70" cy="517.00" r="5.10" fill="#fff" stroke="#1438f0" stroke-width="2.2"/>
<circle cx="258.30" cy="521.80" r="5.10" fill="#fff" stroke="#1438f0" stroke-width="2.2"/>
<circle cx="284.45" cy="522.50" r="5.10" fill="#fff" stroke="#1438f0" stroke-width="2.2"/>
<circle cx="307.93" cy="523.50" r="5.10" fill="#fff" stroke="#1438f0" stroke-width="2.2"/>
<circle cx="318.05" cy="525.80" r="5.10" fill="#fff" stroke="#1438f0" stroke-width="2.2"/>
<circle cx="334.08" cy="525.80" r="5.10" fill="#fff" stroke="#1438f0" stroke-width="2.2"/>
<circle cx="344.19" cy="526.50" r="5.10" fill="#fff" stroke="#1438f0" stroke-width="2.2"/>
<circle cx="354.31" cy="527.70" r="5.10" fill="#fff" stroke="#1438f0" stroke-width="2.2"/>
<path d="M258.30,518.80V524.80M255.05,518.80h6.5M255.05,524.80h6.5" stroke="#1438f0" stroke-width="1.6" fill="none"/>
<path d="M284.45,519.50V525.50M281.20,519.50h6.5M281.20,525.50h6.5" stroke="#1438f0" stroke-width="1.6" fill="none"/>
<path d="M318.05,521.80V529.80M314.80,521.80h6.5M314.80,529.80h6.5" stroke="#1438f0" stroke-width="1.6" fill="none"/>
<path d="M224.70,452.80 L258.30,447.20 L284.45,444.50 L307.93,442.50 L318.05,441.00 L334.08,439.50 L344.19,438.80 L354.31,438.30" stroke="#ff0000" stroke-width="2.0" fill="none" stroke-dasharray="6,4"/>
<circle cx="224.70" cy="452.80" r="6.20" fill="#ff0000"/>
<circle cx="258.30" cy="447.20" r="6.20" fill="#ff0000"/>
<circle cx="284.45" cy="444.50" r="6.20" fill="#ff0000"/>
<circle cx="307.93" cy="442.50" r="6.20" fill="#ff0000"/>
<circle cx="318.05" cy="441.00" r="6.20" fill="#ff0000"/>
<circle cx="334.08" cy="439.50" r="6.20" fill="#ff0000"/>
<circle cx="344.19" cy="438.80" r="6.20" fill="#ff0000"/>
<circle cx="354.31" cy="438.30" r="6.20" fill="#ff0000"/>
<path d="M354.31,434.30V442.30M351.06,434.30h6.5M351.06,442.30h6.5" stroke="#ff0000" stroke-width="1.6" fill="none"/>
<path d="M224.70,518.30 L258.30,515.80 L284.45,515.00 L307.93,513.00 L318.05,513.00 L334.08,512.70 L344.19,512.70 L354.31,512.30" stroke="#ff0000" stroke-width="2.0" fill="none"/>
<circle cx="224.70" cy="518.30" r="5.10" fill="#fff" stroke="#ff0000" stroke-width="2.2"/>
<circle cx="258.30" cy="515.80" r="5.10" fill="#fff" stroke="#ff0000" stroke-width="2.2"/>
<circle cx="284.45" cy="515.00" r="5.10" fill="#fff" stroke="#ff0000" stroke-width="2.2"/>
<circle cx="307.93" cy="513.00" r="5.10" fill="#fff" stroke="#ff0000" stroke-width="2.2"/>
<circle cx="318.05" cy="513.00" r="5.10" fill="#fff" stroke="#ff0000" stroke-width="2.2"/>
<circle cx="334.08" cy="512.70" r="5.10" fill="#fff" stroke="#ff0000" stroke-width="2.2"/>
<circle cx="344.19" cy="512.70" r="5.10" fill="#fff" stroke="#ff0000" stroke-width="2.2"/>
<circle cx="354.31" cy="512.30" r="5.10" fill="#fff" stroke="#ff0000" stroke-width="2.2"/>
<path d="M224.70,515.30V521.30M221.45,515.30h6.5M221.45,521.30h6.5" stroke="#ff0000" stroke-width="1.6" fill="none"/>
<path d="M258.30,512.80V518.80M255.05,512.80h6.5M255.05,518.80h6.5" stroke="#ff0000" stroke-width="1.6" fill="none"/>
<path d="M284.45,512.00V518.00M281.20,512.00h6.5M281.20,518.00h6.5" stroke="#ff0000" stroke-width="1.6" fill="none"/>
<path d="M354.31,508.30V516.30M351.06,508.30h6.5M351.06,516.30h6.5" stroke="#ff0000" stroke-width="1.6" fill="none"/>
<path d="M224.70,454.00H354.31" stroke="#8a8a8a" stroke-width="2.8" stroke-dasharray="7,4"/>
<path d="M354.31,454.00V436.30" stroke="#8a8a8a" stroke-width="2.2"/>
<path d="M349.71,438.80L354.31,431.30L358.91,438.80Z" fill="#8a8a8a"/>
<path d="M224.70,519.10H354.31" stroke="#8a8a8a" stroke-width="2.8" stroke-dasharray="7,4"/>
<path d="M354.31,519.10V535.00" stroke="#8a8a8a" stroke-width="2.2"/>
<path d="M349.71,532.50L354.31,540.00L358.91,532.50Z" fill="#8a8a8a"/>
<path d="M384.00,466.00 L418.50,470.80 L445.35,470.80 L469.46,470.80 L479.85,470.80" stroke="#1438f0" stroke-width="2.0" fill="none"/>
<path d="M445.35,461.10V480.50M442.10,461.10h6.5M442.10,480.50h6.5" stroke="#1438f0" stroke-width="1.6" fill="none"/>
<path d="M469.46,462.30V479.30M466.21,462.30h6.5M466.21,479.30h6.5" stroke="#1438f0" stroke-width="1.6" fill="none"/>
<path d="M479.85,460.30V481.30M476.60,460.30h6.5M476.60,481.30h6.5" stroke="#1438f0" stroke-width="1.6" fill="none"/>
<circle cx="384.00" cy="466.00" r="6.20" fill="#1438f0"/>
<circle cx="418.50" cy="470.80" r="6.20" fill="#1438f0"/>
<circle cx="445.35" cy="470.80" r="6.20" fill="#1438f0"/>
<circle cx="469.46" cy="470.80" r="6.20" fill="#1438f0"/>
<circle cx="479.85" cy="470.80" r="6.20" fill="#1438f0"/>
<path d="M481.5,405 L481.5,557" stroke="#1438f0" stroke-width="2" fill="none"/>
<path d="M384.00,509.00 L418.50,514.00 L445.35,514.80 L469.46,515.50 L479.85,515.50" stroke="#1438f0" stroke-width="2.0" fill="none" stroke-dasharray="6,3"/>
<path d="M418.50,508.00V520.00M415.25,508.00h6.5M415.25,520.00h6.5" stroke="#1438f0" stroke-width="1.6" fill="none"/>
<path d="M445.35,507.30V522.30M442.10,507.30h6.5M442.10,522.30h6.5" stroke="#1438f0" stroke-width="1.6" fill="none"/>
<path d="M469.46,505.00V526.00M466.21,505.00h6.5M466.21,526.00h6.5" stroke="#1438f0" stroke-width="1.6" fill="none"/>
<path d="M479.85,505.00V526.00M476.60,505.00h6.5M476.60,526.00h6.5" stroke="#1438f0" stroke-width="1.6" fill="none"/>
<circle cx="384.00" cy="509.00" r="5.10" fill="#fff" stroke="#1438f0" stroke-width="2.2"/>
<circle cx="418.50" cy="514.00" r="5.10" fill="#fff" stroke="#1438f0" stroke-width="2.2"/>
<circle cx="445.35" cy="514.80" r="5.10" fill="#fff" stroke="#1438f0" stroke-width="2.2"/>
<circle cx="469.46" cy="515.50" r="5.10" fill="#fff" stroke="#1438f0" stroke-width="2.2"/>
<circle cx="479.85" cy="515.50" r="5.10" fill="#fff" stroke="#1438f0" stroke-width="2.2"/>
<path d="M384.00,467.30 L418.50,461.80 L445.35,460.30 L469.46,458.80 L479.85,458.80 L496.31,456.20 L506.69,456.20 L517.08,456.20" stroke="#ff0000" stroke-width="2.0" fill="none"/>
<path d="M506.69,449.70V462.70M503.44,449.70h6.5M503.44,462.70h6.5" stroke="#ff0000" stroke-width="1.6" fill="none"/>
<path d="M517.08,449.70V462.70M513.83,449.70h6.5M513.83,462.70h6.5" stroke="#ff0000" stroke-width="1.6" fill="none"/>
<circle cx="384.00" cy="467.30" r="6.20" fill="#ff0000"/>
<circle cx="418.50" cy="461.80" r="6.20" fill="#ff0000"/>
<circle cx="445.35" cy="460.30" r="6.20" fill="#ff0000"/>
<circle cx="469.46" cy="458.80" r="6.20" fill="#ff0000"/>
<circle cx="479.85" cy="458.80" r="6.20" fill="#ff0000"/>
<circle cx="496.31" cy="456.20" r="6.20" fill="#ff0000"/>
<circle cx="506.69" cy="456.20" r="6.20" fill="#ff0000"/>
<circle cx="517.08" cy="456.20" r="6.20" fill="#ff0000"/>
<path d="M384.00,509.50 L418.50,508.80 L445.35,508.00 L469.46,505.00 L479.85,505.00 L496.31,505.00 L506.69,505.00 L517.08,504.30" stroke="#ff0000" stroke-width="2.0" fill="none"/>
<circle cx="384.00" cy="509.50" r="5.10" fill="#fff" stroke="#ff0000" stroke-width="2.2"/>
<circle cx="418.50" cy="508.80" r="5.10" fill="#fff" stroke="#ff0000" stroke-width="2.2"/>
<circle cx="445.35" cy="508.00" r="5.10" fill="#fff" stroke="#ff0000" stroke-width="2.2"/>
<circle cx="469.46" cy="505.00" r="5.10" fill="#fff" stroke="#ff0000" stroke-width="2.2"/>
<circle cx="479.85" cy="505.00" r="5.10" fill="#fff" stroke="#ff0000" stroke-width="2.2"/>
<circle cx="496.31" cy="505.00" r="5.10" fill="#fff" stroke="#ff0000" stroke-width="2.2"/>
<circle cx="506.69" cy="505.00" r="5.10" fill="#fff" stroke="#ff0000" stroke-width="2.2"/>
<circle cx="517.08" cy="504.30" r="5.10" fill="#fff" stroke="#ff0000" stroke-width="2.2"/>
<path d="M384.00,506.50V512.50M380.75,506.50h6.5M380.75,512.50h6.5" stroke="#ff0000" stroke-width="1.6" fill="none"/>
<path d="M445.35,505.00V511.00M442.10,505.00h6.5M442.10,511.00h6.5" stroke="#ff0000" stroke-width="1.6" fill="none"/>
<path d="M496.31,500.00V510.00M493.06,500.00h6.5M493.06,510.00h6.5" stroke="#ff0000" stroke-width="1.6" fill="none"/>
<path d="M506.69,500.00V510.00M503.44,500.00h6.5M503.44,510.00h6.5" stroke="#ff0000" stroke-width="1.6" fill="none"/>
<path d="M517.08,499.30V509.30M513.83,499.30h6.5M513.83,509.30h6.5" stroke="#ff0000" stroke-width="1.6" fill="none"/>
<path d="M384.00,467.80H481.50" stroke="#8a8a8a" stroke-width="2.8" stroke-dasharray="7,4"/>
<path d="M481.50,467.80V457.00" stroke="#8a8a8a" stroke-width="2.2"/>
<path d="M476.90,459.50L481.50,452.00L486.10,459.50Z" fill="#8a8a8a"/>
<path d="M384.00,509.30H481.50" stroke="#8a8a8a" stroke-width="2.8" stroke-dasharray="7,4"/>
<path d="M481.50,509.30V515.80" stroke="#8a8a8a" stroke-width="2.2"/>
<path d="M476.90,513.30L481.50,520.80L486.10,513.30Z" fill="#8a8a8a"/>
<path d="M56.00,418.70H91.80" stroke="#1438f0" stroke-width="2.3"/>
<circle cx="73.90" cy="418.70" r="5.70" fill="#1438f0"/>
<text x="96.40" y="424.70" font-size="16.5" fill="#000" stroke="#000" stroke-width="0.35" text-anchor="start" textLength="43.0" lengthAdjust="spacingAndGlyphs" font-family="Liberation Serif" font-weight="bold" >FCVS</text>
<path d="M58.30,547.00H92.50" stroke="#ff0000" stroke-width="2.3"/>
<circle cx="75.40" cy="547.00" r="5.70" fill="#ff0000"/>
<text x="98.10" y="552.70" font-size="16.5" fill="#000" stroke="#000" stroke-width="0.35" text-anchor="start" textLength="44.6" lengthAdjust="spacingAndGlyphs" font-family="Liberation Serif" font-weight="bold" >RCVS</text>
<path d="M219.40,417.30H252.80" stroke="#1438f0" stroke-width="2.3"/>
<circle cx="236.10" cy="417.30" r="5.70" fill="#1438f0"/>
<text x="259.00" y="422.70" font-size="16.5" fill="#000" stroke="#000" stroke-width="0.35" text-anchor="start" textLength="43.6" lengthAdjust="spacingAndGlyphs" font-family="Liberation Serif" font-weight="bold" >FCVS</text>
<path d="M219.40,544.70H253.30" stroke="#ff0000" stroke-width="2.3"/>
<circle cx="236.35" cy="544.70" r="5.70" fill="#ff0000"/>
<text x="263.20" y="552.10" font-size="16.5" fill="#000" stroke="#000" stroke-width="0.35" text-anchor="start" textLength="46.5" lengthAdjust="spacingAndGlyphs" font-family="Liberation Serif" font-weight="bold" >RCVS</text>
<path d="M384.30,420.80H417.30" stroke="#1438f0" stroke-width="2.3"/>
<circle cx="400.80" cy="420.80" r="5.70" fill="#1438f0"/>
<text x="427.00" y="428.00" font-size="16.5" fill="#000" stroke="#000" stroke-width="0.35" text-anchor="start" textLength="44.7" lengthAdjust="spacingAndGlyphs" font-family="Liberation Serif" font-weight="bold" >FCVS</text>
<path d="M382.90,546.40H417.30" stroke="#ff0000" stroke-width="2.3"/>
<circle cx="400.10" cy="546.40" r="5.70" fill="#ff0000"/>
<text x="422.70" y="551.60" font-size="16.5" fill="#000" stroke="#000" stroke-width="0.35" text-anchor="start" textLength="45.2" lengthAdjust="spacingAndGlyphs" font-family="Liberation Serif" font-weight="bold" >RCVS</text>
<text x="149.00" y="422.60" font-size="16.5" fill="#000" stroke="#000" stroke-width="0.35" text-anchor="start" textLength="34.1" lengthAdjust="spacingAndGlyphs" font-family="Liberation Serif" font-weight="bold" >53%</text>
<text x="189.20" y="422.00" font-size="16" fill="#000" stroke="#000" stroke-width="0.35" text-anchor="start" textLength="20.3" lengthAdjust="spacingAndGlyphs" font-family="Liberation Serif" font-weight="bold" >(g)</text>
<text x="156.30" y="553.60" font-size="17" fill="#000" stroke="#000" stroke-width="0.35" text-anchor="start" textLength="47.7" lengthAdjust="spacingAndGlyphs" font-family="Liberation Serif" font-weight="bold" >46.3%</text>
<text x="306.20" y="427.00" font-size="17" fill="#000" stroke="#000" stroke-width="0.35" text-anchor="start" textLength="46.9" lengthAdjust="spacingAndGlyphs" font-family="Liberation Serif" font-weight="bold" >41.1%</text>
<text x="351.20" y="420.00" font-size="14.5" fill="#000" stroke="#000" stroke-width="0.35" text-anchor="start" textLength="17.2" lengthAdjust="spacingAndGlyphs" font-family="Liberation Serif" font-weight="bold" >(h)</text>
<text x="313.30" y="554.20" font-size="17" fill="#000" stroke="#000" stroke-width="0.35" text-anchor="start" textLength="49.4" lengthAdjust="spacingAndGlyphs" font-family="Liberation Serif" font-weight="bold" >36.5%</text>
<text x="514.50" y="425.00" font-size="16" fill="#000" stroke="#000" stroke-width="0.35" text-anchor="start" textLength="15.2" lengthAdjust="spacingAndGlyphs" font-family="Liberation Serif" font-weight="bold" >(i)</text>
<text x="481.50" y="443.70" font-size="17" fill="#000" stroke="#000" stroke-width="0.35" text-anchor="start" textLength="49.6" lengthAdjust="spacingAndGlyphs" font-family="Liberation Serif" font-weight="bold" >38.6%</text>
<text x="481.50" y="547.30" font-size="17" fill="#000" stroke="#000" stroke-width="0.35" text-anchor="start" textLength="49.6" lengthAdjust="spacingAndGlyphs" font-family="Liberation Serif" font-weight="bold" >32.2%</text>
<text x="61.10" y="479.70" font-size="16.5" fill="#17a050" stroke="#17a050" stroke-width="0.35" text-anchor="start" textLength="74.4" lengthAdjust="spacingAndGlyphs" font-family="Liberation Serif" font-weight="bold" ><tspan font-style="italic">t</tspan><tspan font-size="11.2" dy="3.4">HZO</tspan><tspan dy="-3.4">: 6 nm</tspan></text>
<text x="227.90" y="479.10" font-size="16.5" fill="#ff0000" stroke="#ff0000" stroke-width="0.35" text-anchor="start" textLength="83.2" lengthAdjust="spacingAndGlyphs" font-family="Liberation Serif" font-weight="bold" ><tspan font-style="italic">t</tspan><tspan font-size="11.2" dy="3.4">HZO</tspan><tspan dy="-3.4">: 10 nm</tspan></text>
<text x="390.50" y="449.50" font-size="16.5" fill="#1c3ce8" stroke="#1c3ce8" stroke-width="0.35" text-anchor="start" textLength="83.2" lengthAdjust="spacingAndGlyphs" font-family="Liberation Serif" font-weight="bold" ><tspan font-style="italic">t</tspan><tspan font-size="11.2" dy="3.4">HZO</tspan><tspan dy="-3.4">: 20 nm</tspan></text>
<text x="59.00" y="498.90" font-size="16.5" fill="#000" stroke="#000" stroke-width="0.35" text-anchor="start" textLength="148.1" lengthAdjust="spacingAndGlyphs" font-family="Liberation Serif" font-weight="bold" >Solid: <tspan font-style="italic">E</tspan><tspan font-size="11.5" dy="3.6">c</tspan><tspan font-size="12" dy="-9.6" dx="-1.2">+</tspan><tspan dy="6">, Open: </tspan><tspan font-style="italic">E</tspan><tspan font-size="11.5" dy="3.6">c</tspan><tspan font-size="13" dy="-9.6" dx="-0.5">-</tspan></text>
<text x="223.40" y="501.20" font-size="16.5" fill="#000" stroke="#000" stroke-width="0.35" text-anchor="start" textLength="144.0" lengthAdjust="spacingAndGlyphs" font-family="Liberation Serif" font-weight="bold" >Solid: <tspan font-style="italic">E</tspan><tspan font-size="11.5" dy="3.6">c</tspan><tspan font-size="12" dy="-9.6" dx="-1.2">+</tspan><tspan dy="6">, Open: </tspan><tspan font-style="italic">E</tspan><tspan font-size="11.5" dy="3.6">c</tspan><tspan font-size="13" dy="-9.6" dx="-0.5">-</tspan></text>
<text x="382.00" y="495.80" font-size="16.5" fill="#000" stroke="#000" stroke-width="0.35" text-anchor="start" textLength="147.6" lengthAdjust="spacingAndGlyphs" font-family="Liberation Serif" font-weight="bold" >Solid: <tspan font-style="italic">E</tspan><tspan font-size="11.5" dy="3.6">c</tspan><tspan font-size="12" dy="-9.6" dx="-1.2">+</tspan><tspan dy="6">, Open: </tspan><tspan font-style="italic">E</tspan><tspan font-size="11.5" dy="3.6">c</tspan><tspan font-size="13" dy="-9.6" dx="-0.5">-</tspan></text>
<path d="M64.50,557.90v-5M64.50,404.90v5M98.70,557.90v-5M98.70,404.90v5M132.90,557.90v-5M132.90,404.90v5M167.10,557.90v-5M167.10,404.90v5M201.30,557.90v-5M201.30,404.90v5M54.20,557.90v-2.8M54.20,404.90v2.8M56.91,557.90v-2.8M56.91,404.90v2.8M59.20,557.90v-2.8M59.20,404.90v2.8M61.19,557.90v-2.8M61.19,404.90v2.8M62.94,557.90v-2.8M62.94,404.90v2.8M74.80,557.90v-2.8M74.80,404.90v2.8M80.82,557.90v-2.8M80.82,404.90v2.8M85.09,557.90v-2.8M85.09,404.90v2.8M88.40,557.90v-2.8M88.40,404.90v2.8M91.11,557.90v-2.8M91.11,404.90v2.8M93.40,557.90v-2.8M93.40,404.90v2.8M95.39,557.90v-2.8M95.39,404.90v2.8M97.14,557.90v-2.8M97.14,404.90v2.8M109.00,557.90v-2.8M109.00,404.90v2.8M115.02,557.90v-2.8M115.02,404.90v2.8M119.29,557.90v-2.8M119.29,404.90v2.8M122.60,557.90v-2.8M122.60,404.90v2.8M125.31,557.90v-2.8M125.31,404.90v2.8M127.60,557.90v-2.8M127.60,404.90v2.8M129.59,557.90v-2.8M129.59,404.90v2.8M131.34,557.90v-2.8M131.34,404.90v2.8M143.20,557.90v-2.8M143.20,404.90v2.8M149.22,557.90v-2.8M149.22,404.90v2.8M153.49,557.90v-2.8M153.49,404.90v2.8M156.80,557.90v-2.8M156.80,404.90v2.8M159.51,557.90v-2.8M159.51,404.90v2.8M161.80,557.90v-2.8M161.80,404.90v2.8M163.79,557.90v-2.8M163.79,404.90v2.8M165.54,557.90v-2.8M165.54,404.90v2.8M177.40,557.90v-2.8M177.40,404.90v2.8M183.42,557.90v-2.8M183.42,404.90v2.8M187.69,557.90v-2.8M187.69,404.90v2.8M191.00,557.90v-2.8M191.00,404.90v2.8M193.71,557.90v-2.8M193.71,404.90v2.8M196.00,557.90v-2.8M196.00,404.90v2.8M197.99,557.90v-2.8M197.99,404.90v2.8M199.74,557.90v-2.8M199.74,404.90v2.8M51.30,536.00h5M211.80,536.00h-5M51.30,492.30h5M211.80,492.30h-5M51.30,448.60h5M211.80,448.60h-5M51.30,404.90h5M211.80,404.90h-5M51.30,557.85h2.8M211.80,557.85h-2.8M51.30,514.15h2.8M211.80,514.15h-2.8M51.30,470.45h2.8M211.80,470.45h-2.8M51.30,426.75h2.8M211.80,426.75h-2.8" stroke="#000" stroke-width="1.7" fill="none"/>
<rect x="51.30" y="404.90" width="160.50" height="153.00" stroke="#000" stroke-width="2.6" fill="none"/>
<path d="M224.70,557.90v-5M224.70,404.90v5M258.30,557.90v-5M258.30,404.90v5M291.90,557.90v-5M291.90,404.90v5M325.50,557.90v-5M325.50,404.90v5M359.10,557.90v-5M359.10,404.90v5M214.59,557.90v-2.8M214.59,404.90v2.8M217.25,557.90v-2.8M217.25,404.90v2.8M219.50,557.90v-2.8M219.50,404.90v2.8M221.44,557.90v-2.8M221.44,404.90v2.8M223.16,557.90v-2.8M223.16,404.90v2.8M234.81,557.90v-2.8M234.81,404.90v2.8M240.73,557.90v-2.8M240.73,404.90v2.8M244.93,557.90v-2.8M244.93,404.90v2.8M248.19,557.90v-2.8M248.19,404.90v2.8M250.85,557.90v-2.8M250.85,404.90v2.8M253.10,557.90v-2.8M253.10,404.90v2.8M255.04,557.90v-2.8M255.04,404.90v2.8M256.76,557.90v-2.8M256.76,404.90v2.8M268.41,557.90v-2.8M268.41,404.90v2.8M274.33,557.90v-2.8M274.33,404.90v2.8M278.53,557.90v-2.8M278.53,404.90v2.8M281.79,557.90v-2.8M281.79,404.90v2.8M284.45,557.90v-2.8M284.45,404.90v2.8M286.70,557.90v-2.8M286.70,404.90v2.8M288.64,557.90v-2.8M288.64,404.90v2.8M290.36,557.90v-2.8M290.36,404.90v2.8M302.01,557.90v-2.8M302.01,404.90v2.8M307.93,557.90v-2.8M307.93,404.90v2.8M312.13,557.90v-2.8M312.13,404.90v2.8M315.39,557.90v-2.8M315.39,404.90v2.8M318.05,557.90v-2.8M318.05,404.90v2.8M320.30,557.90v-2.8M320.30,404.90v2.8M322.24,557.90v-2.8M322.24,404.90v2.8M323.96,557.90v-2.8M323.96,404.90v2.8M335.61,557.90v-2.8M335.61,404.90v2.8M341.53,557.90v-2.8M341.53,404.90v2.8M345.73,557.90v-2.8M345.73,404.90v2.8M348.99,557.90v-2.8M348.99,404.90v2.8M351.65,557.90v-2.8M351.65,404.90v2.8M353.90,557.90v-2.8M353.90,404.90v2.8M355.84,557.90v-2.8M355.84,404.90v2.8M357.56,557.90v-2.8M357.56,404.90v2.8M211.80,536.00h5M370.20,536.00h-5M211.80,492.30h5M370.20,492.30h-5M211.80,448.60h5M370.20,448.60h-5M211.80,404.90h5M370.20,404.90h-5M211.80,557.85h2.8M370.20,557.85h-2.8M211.80,514.15h2.8M370.20,514.15h-2.8M211.80,470.45h2.8M370.20,470.45h-2.8M211.80,426.75h2.8M370.20,426.75h-2.8" stroke="#000" stroke-width="1.7" fill="none"/>
<rect x="211.80" y="404.90" width="158.40" height="153.00" stroke="#000" stroke-width="2.6" fill="none"/>
<path d="M384.00,557.90v-5M384.00,404.90v5M418.50,557.90v-5M418.50,404.90v5M453.00,557.90v-5M453.00,404.90v5M487.50,557.90v-5M487.50,404.90v5M522.00,557.90v-5M522.00,404.90v5M373.61,557.90v-2.8M373.61,404.90v2.8M376.35,557.90v-2.8M376.35,404.90v2.8M378.66,557.90v-2.8M378.66,404.90v2.8M380.66,557.90v-2.8M380.66,404.90v2.8M382.42,557.90v-2.8M382.42,404.90v2.8M394.39,557.90v-2.8M394.39,404.90v2.8M400.46,557.90v-2.8M400.46,404.90v2.8M404.77,557.90v-2.8M404.77,404.90v2.8M408.11,557.90v-2.8M408.11,404.90v2.8M410.85,557.90v-2.8M410.85,404.90v2.8M413.16,557.90v-2.8M413.16,404.90v2.8M415.16,557.90v-2.8M415.16,404.90v2.8M416.92,557.90v-2.8M416.92,404.90v2.8M428.89,557.90v-2.8M428.89,404.90v2.8M434.96,557.90v-2.8M434.96,404.90v2.8M439.27,557.90v-2.8M439.27,404.90v2.8M442.61,557.90v-2.8M442.61,404.90v2.8M445.35,557.90v-2.8M445.35,404.90v2.8M447.66,557.90v-2.8M447.66,404.90v2.8M449.66,557.90v-2.8M449.66,404.90v2.8M451.42,557.90v-2.8M451.42,404.90v2.8M463.39,557.90v-2.8M463.39,404.90v2.8M469.46,557.90v-2.8M469.46,404.90v2.8M473.77,557.90v-2.8M473.77,404.90v2.8M477.11,557.90v-2.8M477.11,404.90v2.8M479.85,557.90v-2.8M479.85,404.90v2.8M482.16,557.90v-2.8M482.16,404.90v2.8M484.16,557.90v-2.8M484.16,404.90v2.8M485.92,557.90v-2.8M485.92,404.90v2.8M497.89,557.90v-2.8M497.89,404.90v2.8M503.96,557.90v-2.8M503.96,404.90v2.8M508.27,557.90v-2.8M508.27,404.90v2.8M511.61,557.90v-2.8M511.61,404.90v2.8M514.35,557.90v-2.8M514.35,404.90v2.8M516.66,557.90v-2.8M516.66,404.90v2.8M518.66,557.90v-2.8M518.66,404.90v2.8M520.42,557.90v-2.8M520.42,404.90v2.8M370.20,536.00h5M530.30,536.00h-5M370.20,492.30h5M530.30,492.30h-5M370.20,448.60h5M530.30,448.60h-5M370.20,404.90h5M530.30,404.90h-5M370.20,557.85h2.8M530.30,557.85h-2.8M370.20,514.15h2.8M530.30,514.15h-2.8M370.20,470.45h2.8M530.30,470.45h-2.8M370.20,426.75h2.8M530.30,426.75h-2.8" stroke="#000" stroke-width="1.7" fill="none"/>
<rect x="370.20" y="404.90" width="160.10" height="153.00" stroke="#000" stroke-width="2.6" fill="none"/>
<text x="64.20" y="575.30" font-size="16.5" text-anchor="middle" stroke="#000" stroke-width="0.35" font-family="Liberation Serif" font-weight="bold">10<tspan font-size="9.8" dx="1" dy="-6.8">0</tspan></text>
<text x="98.40" y="575.30" font-size="16.5" text-anchor="middle" stroke="#000" stroke-width="0.35" font-family="Liberation Serif" font-weight="bold">10<tspan font-size="9.8" dx="1" dy="-6.8">1</tspan></text>
<text x="132.60" y="575.30" font-size="16.5" text-anchor="middle" stroke="#000" stroke-width="0.35" font-family="Liberation Serif" font-weight="bold">10<tspan font-size="9.8" dx="1" dy="-6.8">2</tspan></text>
<text x="166.80" y="575.30" font-size="16.5" text-anchor="middle" stroke="#000" stroke-width="0.35" font-family="Liberation Serif" font-weight="bold">10<tspan font-size="9.8" dx="1" dy="-6.8">3</tspan></text>
<text x="201.00" y="575.30" font-size="16.5" text-anchor="middle" stroke="#000" stroke-width="0.35" font-family="Liberation Serif" font-weight="bold">10<tspan font-size="9.8" dx="1" dy="-6.8">4</tspan></text>
<text x="224.40" y="575.30" font-size="16.5" text-anchor="middle" stroke="#000" stroke-width="0.35" font-family="Liberation Serif" font-weight="bold">10<tspan font-size="9.8" dx="1" dy="-6.8">0</tspan></text>
<text x="258.00" y="575.30" font-size="16.5" text-anchor="middle" stroke="#000" stroke-width="0.35" font-family="Liberation Serif" font-weight="bold">10<tspan font-size="9.8" dx="1" dy="-6.8">1</tspan></text>
<text x="291.60" y="575.30" font-size="16.5" text-anchor="middle" stroke="#000" stroke-width="0.35" font-family="Liberation Serif" font-weight="bold">10<tspan font-size="9.8" dx="1" dy="-6.8">2</tspan></text>
<text x="325.20" y="575.30" font-size="16.5" text-anchor="middle" stroke="#000" stroke-width="0.35" font-family="Liberation Serif" font-weight="bold">10<tspan font-size="9.8" dx="1" dy="-6.8">3</tspan></text>
<text x="358.80" y="575.30" font-size="16.5" text-anchor="middle" stroke="#000" stroke-width="0.35" font-family="Liberation Serif" font-weight="bold">10<tspan font-size="9.8" dx="1" dy="-6.8">4</tspan></text>
<text x="383.70" y="575.30" font-size="16.5" text-anchor="middle" stroke="#000" stroke-width="0.35" font-family="Liberation Serif" font-weight="bold">10<tspan font-size="9.8" dx="1" dy="-6.8">0</tspan></text>
<text x="418.20" y="575.30" font-size="16.5" text-anchor="middle" stroke="#000" stroke-width="0.35" font-family="Liberation Serif" font-weight="bold">10<tspan font-size="9.8" dx="1" dy="-6.8">1</tspan></text>
<text x="452.70" y="575.30" font-size="16.5" text-anchor="middle" stroke="#000" stroke-width="0.35" font-family="Liberation Serif" font-weight="bold">10<tspan font-size="9.8" dx="1" dy="-6.8">2</tspan></text>
<text x="487.20" y="575.30" font-size="16.5" text-anchor="middle" stroke="#000" stroke-width="0.35" font-family="Liberation Serif" font-weight="bold">10<tspan font-size="9.8" dx="1" dy="-6.8">3</tspan></text>
<text x="521.70" y="575.30" font-size="16.5" text-anchor="middle" stroke="#000" stroke-width="0.35" font-family="Liberation Serif" font-weight="bold">10<tspan font-size="9.8" dx="1" dy="-6.8">4</tspan></text>
<text x="101.40" y="594.80" font-size="16" fill="#000" stroke="#000" stroke-width="0.35" text-anchor="start" textLength="57.8" lengthAdjust="spacingAndGlyphs" font-family="Liberation Serif" font-weight="bold" >Time (s)</text>
<text x="263.90" y="594.80" font-size="16" fill="#000" stroke="#000" stroke-width="0.35" text-anchor="start" textLength="56.3" lengthAdjust="spacingAndGlyphs" font-family="Liberation Serif" font-weight="bold" >Time (s)</text>
<text x="420.90" y="594.80" font-size="16" fill="#000" stroke="#000" stroke-width="0.35" text-anchor="start" textLength="57.1" lengthAdjust="spacingAndGlyphs" font-family="Liberation Serif" font-weight="bold" >Time (s)</text>
<text x="49.60" y="410.50" font-size="16.5" fill="#000" stroke="#000" stroke-width="0.35" text-anchor="end" font-family="Liberation Serif" font-weight="bold" >4</text>
<text x="49.60" y="454.20" font-size="16.5" fill="#000" stroke="#000" stroke-width="0.35" text-anchor="end" font-family="Liberation Serif" font-weight="bold" >2</text>
<text x="49.60" y="497.90" font-size="16.5" fill="#000" stroke="#000" stroke-width="0.35" text-anchor="end" font-family="Liberation Serif" font-weight="bold" >0</text>
<text x="49.60" y="541.60" font-size="16.5" fill="#000" stroke="#000" stroke-width="0.35" text-anchor="end" font-family="Liberation Serif" font-weight="bold" >-2</text>
<text transform="translate(30.7,534.3) rotate(-90)" font-size="16" textLength="76.3" lengthAdjust="spacingAndGlyphs" stroke="#000" stroke-width="0.35" font-family="Liberation Serif" font-weight="bold"><tspan font-style="italic">E</tspan><tspan font-size="11" dy="3.5">c</tspan><tspan font-size="11" dy="-10" dx="-3">+</tspan><tspan dy="6.5">, </tspan><tspan font-style="italic">E</tspan><tspan font-size="11" dy="3.5">c</tspan><tspan font-size="11" dy="-10" dx="-3">-</tspan><tspan dy="6.5"> (V)</tspan></text>
</svg></body></html>
